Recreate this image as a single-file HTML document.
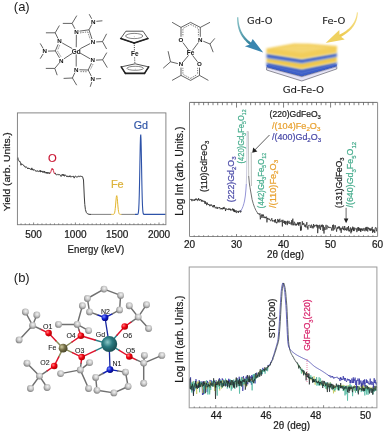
<!DOCTYPE html><html><head><meta charset="utf-8"><style>html,body{margin:0;padding:0;background:#fff;}svg{display:block;}text{font-family:'Liberation Sans', Arial, sans-serif;}</style></head><body>
<svg width="386" height="434" viewBox="0 0 386 434">
<defs>
<radialGradient id="gC" cx="0.55" cy="0.38" r="0.72"><stop offset="0" stop-color="#f2f2f2"/><stop offset="0.45" stop-color="#c6c6c6"/><stop offset="0.85" stop-color="#808080"/><stop offset="1" stop-color="#5a5a5a"/></radialGradient>
<radialGradient id="gO" cx="0.35" cy="0.35" r="0.75"><stop offset="0" stop-color="#ff8080"/><stop offset="0.45" stop-color="#f00010"/><stop offset="1" stop-color="#a00000"/></radialGradient>
<radialGradient id="gN" cx="0.35" cy="0.35" r="0.75"><stop offset="0" stop-color="#8090ff"/><stop offset="0.45" stop-color="#1020d0"/><stop offset="1" stop-color="#000070"/></radialGradient>
<radialGradient id="gFe" cx="0.35" cy="0.35" r="0.75"><stop offset="0" stop-color="#d0cca0"/><stop offset="0.45" stop-color="#767048"/><stop offset="1" stop-color="#3c3a20"/></radialGradient>
<radialGradient id="gGd" cx="0.4" cy="0.38" r="0.75"><stop offset="0" stop-color="#8cc8c8"/><stop offset="0.4" stop-color="#2a7a80"/><stop offset="1" stop-color="#123c40"/></radialGradient>
<linearGradient id="gTeal" x1="0" y1="0" x2="1" y2="1"><stop offset="0" stop-color="#8cc4c8"/><stop offset="1" stop-color="#2a7c98"/></linearGradient>
<linearGradient id="gYel" x1="1" y1="0" x2="0" y2="1"><stop offset="0" stop-color="#f6e08a"/><stop offset="1" stop-color="#ecc84a"/></linearGradient>
<filter id="blur1" x="-10%" y="-30%" width="120%" height="160%"><feGaussianBlur stdDeviation="0.9"/></filter>
<filter id="blur2" x="-10%" y="-30%" width="120%" height="160%"><feGaussianBlur stdDeviation="0.5"/></filter>
</defs>
<text x="13.8" y="11.2" font-size="13" fill="#1a1a1a" >(a)</text>
<text x="13.8" y="281.9" font-size="13" fill="#1a1a1a" >(b)</text>
<line x1="76.24" y1="47.2" x2="76.37" y2="34.8" stroke="#3c3c3c" stroke-width="0.8" />
<line x1="80.28" y1="48.68" x2="90.16" y2="43.57" stroke="#3c3c3c" stroke-width="0.8" />
<line x1="72.19" y1="48.55" x2="62.19" y2="42.96" stroke="#3c3c3c" stroke-width="0.8" />
<line x1="72.35" y1="53.32" x2="63.88" y2="58.85" stroke="#3c3c3c" stroke-width="0.8" />
<line x1="80.19" y1="53.08" x2="90.02" y2="58.71" stroke="#3c3c3c" stroke-width="0.8" />
<line x1="76.2" y1="54.4" x2="76.2" y2="66.5" stroke="#3c3c3c" stroke-width="0.8" />
<line x1="79.57" y1="31.15" x2="89" y2="29.8" stroke="#3c3c3c" stroke-width="0.8" />
<line x1="89" y1="29.8" x2="92.01" y2="39.06" stroke="#3c3c3c" stroke-width="0.8" />
<line x1="89" y1="29.8" x2="91.74" y2="24.45" stroke="#3c3c3c" stroke-width="0.8" />
<line x1="58.13" y1="44.34" x2="55.3" y2="50.9" stroke="#3c3c3c" stroke-width="0.8" />
<line x1="55.3" y1="50.9" x2="59.54" y2="57.87" stroke="#3c3c3c" stroke-width="0.8" />
<line x1="55.3" y1="50.9" x2="48" y2="51.11" stroke="#3c3c3c" stroke-width="0.8" />
<line x1="91.43" y1="63.19" x2="88.2" y2="70" stroke="#3c3c3c" stroke-width="0.8" />
<line x1="88.2" y1="70" x2="79.4" y2="69.78" stroke="#3c3c3c" stroke-width="0.8" />
<line x1="88.2" y1="70" x2="91.34" y2="76.15" stroke="#3c3c3c" stroke-width="0.8" />
<line x1="80.12" y1="32.89" x2="87.67" y2="31.81" stroke="#3c3c3c" stroke-width="0.7" stroke-dasharray="1.3 1.1"/>
<line x1="87.78" y1="31.88" x2="90.21" y2="39.33" stroke="#3c3c3c" stroke-width="0.7" stroke-dasharray="1.3 1.1"/>
<line x1="59.67" y1="45.33" x2="57.59" y2="50.14" stroke="#3c3c3c" stroke-width="0.7" stroke-dasharray="1.3 1.1"/>
<line x1="57.67" y1="51.33" x2="60.92" y2="56.67" stroke="#3c3c3c" stroke-width="0.7" stroke-dasharray="1.3 1.1"/>
<line x1="92.93" y1="64.23" x2="90.51" y2="69.33" stroke="#3c3c3c" stroke-width="0.7" stroke-dasharray="1.3 1.1"/>
<line x1="86.56" y1="71.76" x2="79.65" y2="71.59" stroke="#3c3c3c" stroke-width="0.7" stroke-dasharray="1.3 1.1"/>
<line x1="91.68" y1="18.78" x2="89.2" y2="14.2" stroke="#3c3c3c" stroke-width="0.8" />
<line x1="96.39" y1="21.32" x2="102.4" y2="20.8" stroke="#3c3c3c" stroke-width="0.8" />
<line x1="43.17" y1="48.44" x2="40.2" y2="43.4" stroke="#3c3c3c" stroke-width="0.8" />
<line x1="43.13" y1="53.93" x2="40.2" y2="58.7" stroke="#3c3c3c" stroke-width="0.8" />
<line x1="96" y1="78.85" x2="101.1" y2="78.6" stroke="#3c3c3c" stroke-width="0.8" />
<line x1="91.79" y1="82.04" x2="90.2" y2="86.8" stroke="#3c3c3c" stroke-width="0.8" />
<line x1="74.91" y1="28.77" x2="72.1" y2="23.4" stroke="#3c3c3c" stroke-width="0.8" />
<line x1="72.1" y1="23.4" x2="62.8" y2="23.4" stroke="#3c3c3c" stroke-width="0.8" />
<line x1="72.1" y1="23.4" x2="76.8" y2="15.6" stroke="#3c3c3c" stroke-width="0.8" />
<line x1="96.2" y1="41.93" x2="102.5" y2="41.6" stroke="#3c3c3c" stroke-width="0.8" />
<line x1="102.5" y1="41.6" x2="106.6" y2="33.8" stroke="#3c3c3c" stroke-width="0.8" />
<line x1="102.5" y1="41.6" x2="106.6" y2="49" stroke="#3c3c3c" stroke-width="0.8" />
<line x1="58" y1="38.52" x2="55.2" y2="32.8" stroke="#3c3c3c" stroke-width="0.8" />
<line x1="55.2" y1="32.8" x2="45.9" y2="32.8" stroke="#3c3c3c" stroke-width="0.8" />
<line x1="55.2" y1="32.8" x2="59.4" y2="25.5" stroke="#3c3c3c" stroke-width="0.8" />
<line x1="59.17" y1="63.07" x2="54.8" y2="68.4" stroke="#3c3c3c" stroke-width="0.8" />
<line x1="54.8" y1="68.4" x2="45.8" y2="68.4" stroke="#3c3c3c" stroke-width="0.8" />
<line x1="54.8" y1="68.4" x2="57.2" y2="75.2" stroke="#3c3c3c" stroke-width="0.8" />
<line x1="96" y1="60.14" x2="102.6" y2="59.8" stroke="#3c3c3c" stroke-width="0.8" />
<line x1="102.6" y1="59.8" x2="106.8" y2="52.6" stroke="#3c3c3c" stroke-width="0.8" />
<line x1="102.6" y1="59.8" x2="107.3" y2="67.6" stroke="#3c3c3c" stroke-width="0.8" />
<line x1="74.87" y1="72.61" x2="72.4" y2="78" stroke="#3c3c3c" stroke-width="0.8" />
<line x1="72.4" y1="78" x2="63.6" y2="78.4" stroke="#3c3c3c" stroke-width="0.8" />
<line x1="72.4" y1="78" x2="76.7" y2="85.2" stroke="#3c3c3c" stroke-width="0.8" />
<text x="76.4" y="33.5" font-size="6.2" fill="#1a1a1a" stroke="#1a1a1a" stroke-width="0.05" text-anchor="middle" font-weight="bold">N</text>
<text x="93" y="44" font-size="6.2" fill="#1a1a1a" stroke="#1a1a1a" stroke-width="0.05" text-anchor="middle" font-weight="bold">N</text>
<text x="93.2" y="23.5" font-size="6.2" fill="#1a1a1a" stroke="#1a1a1a" stroke-width="0.05" text-anchor="middle" font-weight="bold">N</text>
<text x="59.4" y="43.3" font-size="6.2" fill="#1a1a1a" stroke="#1a1a1a" stroke-width="0.05" text-anchor="middle" font-weight="bold">N</text>
<text x="61.2" y="62.5" font-size="6.2" fill="#1a1a1a" stroke="#1a1a1a" stroke-width="0.05" text-anchor="middle" font-weight="bold">N</text>
<text x="44.8" y="53.1" font-size="6.2" fill="#1a1a1a" stroke="#1a1a1a" stroke-width="0.05" text-anchor="middle" font-weight="bold">N</text>
<text x="92.8" y="62.2" font-size="6.2" fill="#1a1a1a" stroke="#1a1a1a" stroke-width="0.05" text-anchor="middle" font-weight="bold">N</text>
<text x="76.2" y="71.6" font-size="6.2" fill="#1a1a1a" stroke="#1a1a1a" stroke-width="0.05" text-anchor="middle" font-weight="bold">N</text>
<text x="92.8" y="80.9" font-size="6.2" fill="#1a1a1a" stroke="#1a1a1a" stroke-width="0.05" text-anchor="middle" font-weight="bold">N</text>
<text x="76.3" y="53.5" font-size="6.4" fill="#1a1a1a" stroke="#1a1a1a" stroke-width="0.05" text-anchor="middle" font-weight="bold">Gd</text>
<path d="M125.9 31.2 L143 31.2 L148 38.5 L134.2 43.1 L120.7 38.5 Z" fill="none" stroke="#2a2a2a" stroke-width="0.8" stroke-linejoin="round"/>
<path d="M120.7 38.5 L134.2 43.1" stroke="#222" stroke-width="1.6" stroke-linecap="round"/>
<path d="M134.2 43.1 L148 38.5" stroke="#222" stroke-width="1.6" stroke-linecap="round"/>
<ellipse cx="134.2" cy="36" rx="8.6" ry="2.6" fill="none" stroke="#444" stroke-width="0.65"/>
<circle cx="134.2" cy="36.8" r="0.4" fill="#555"/>
<path d="M135.2 63.8 L148.7 66.9 L144.5 73.4 L125.4 73.4 L121.2 66.9 Z" fill="none" stroke="#2a2a2a" stroke-width="0.8" stroke-linejoin="round"/>
<path d="M148.7 66.9 L144.5 73.4" stroke="#222" stroke-width="1.6" stroke-linecap="round"/>
<path d="M144.5 73.4 L125.4 73.4" stroke="#222" stroke-width="1.6" stroke-linecap="round"/>
<path d="M125.4 73.4 L121.2 66.9" stroke="#222" stroke-width="1.6" stroke-linecap="round"/>
<ellipse cx="135.2" cy="68.3" rx="8.2" ry="2" fill="none" stroke="#444" stroke-width="0.65"/>
<circle cx="135.2" cy="69.1" r="0.4" fill="#555"/>
<line x1="134.3" y1="44.8" x2="134.4" y2="50.6" stroke="#333" stroke-width="0.9" stroke-dasharray="1.1 1.1"/>
<line x1="134.6" y1="57.4" x2="134.9" y2="63.4" stroke="#333" stroke-width="0.9" stroke-dasharray="1.1 1.1"/>
<text x="134.75" y="56.2" font-size="6.4" fill="#1a1a1a" stroke="#1a1a1a" stroke-width="0.05" text-anchor="middle" font-weight="bold">Fe</text>
<line x1="182.91" y1="42.57" x2="188.69" y2="50.33" stroke="#3c3c3c" stroke-width="0.8" />
<line x1="198.38" y1="42.56" x2="192.52" y2="50.34" stroke="#3c3c3c" stroke-width="0.8" />
<line x1="183.05" y1="61.94" x2="188.55" y2="55.36" stroke="#3c3c3c" stroke-width="0.8" />
<line x1="197.54" y1="61.87" x2="192.56" y2="55.43" stroke="#3c3c3c" stroke-width="0.8" />
<line x1="181" y1="27.4" x2="181" y2="36.8" stroke="#3c3c3c" stroke-width="0.8" />
<line x1="200.3" y1="27.4" x2="200.3" y2="36.8" stroke="#3c3c3c" stroke-width="0.8" />
<line x1="181" y1="27.4" x2="190.6" y2="22.4" stroke="#3c3c3c" stroke-width="0.8" />
<line x1="190.6" y1="22.4" x2="200.3" y2="27.4" stroke="#3c3c3c" stroke-width="0.8" />
<line x1="181" y1="27.4" x2="172.1" y2="22.3" stroke="#3c3c3c" stroke-width="0.8" />
<line x1="200.3" y1="27.4" x2="210" y2="22.3" stroke="#3c3c3c" stroke-width="0.8" />
<line x1="181" y1="75.4" x2="181" y2="67.6" stroke="#3c3c3c" stroke-width="0.8" />
<line x1="199.5" y1="75.4" x2="199.5" y2="67.6" stroke="#3c3c3c" stroke-width="0.8" />
<line x1="181" y1="75.4" x2="190.6" y2="80.4" stroke="#3c3c3c" stroke-width="0.8" />
<line x1="190.6" y1="80.4" x2="199.5" y2="75.4" stroke="#3c3c3c" stroke-width="0.8" />
<line x1="181" y1="75.4" x2="172.1" y2="80.4" stroke="#3c3c3c" stroke-width="0.8" />
<line x1="199.5" y1="75.4" x2="208.4" y2="80.4" stroke="#3c3c3c" stroke-width="0.8" />
<line x1="182.9" y1="29.2" x2="182.9" y2="36.6" stroke="#3c3c3c" stroke-width="0.7" stroke-dasharray="1.3 1.1"/>
<line x1="198.4" y1="29.2" x2="198.4" y2="36.6" stroke="#3c3c3c" stroke-width="0.7" stroke-dasharray="1.3 1.1"/>
<line x1="183.43" y1="28.16" x2="190.54" y2="24.46" stroke="#3c3c3c" stroke-width="0.7" stroke-dasharray="1.3 1.1"/>
<line x1="190.66" y1="24.46" x2="197.88" y2="28.18" stroke="#3c3c3c" stroke-width="0.7" stroke-dasharray="1.3 1.1"/>
<line x1="182.9" y1="73.6" x2="182.9" y2="67.8" stroke="#3c3c3c" stroke-width="0.7" stroke-dasharray="1.3 1.1"/>
<line x1="197.6" y1="73.6" x2="197.6" y2="67.8" stroke="#3c3c3c" stroke-width="0.7" stroke-dasharray="1.3 1.1"/>
<line x1="183.43" y1="74.64" x2="190.54" y2="78.34" stroke="#3c3c3c" stroke-width="0.7" stroke-dasharray="1.3 1.1"/>
<line x1="190.59" y1="78.34" x2="197.05" y2="74.71" stroke="#3c3c3c" stroke-width="0.7" stroke-dasharray="1.3 1.1"/>
<line x1="203.26" y1="41.22" x2="210" y2="44" stroke="#3c3c3c" stroke-width="0.8" />
<line x1="210" y1="44" x2="214.8" y2="38.4" stroke="#3c3c3c" stroke-width="0.8" />
<line x1="210" y1="44" x2="213.2" y2="52.2" stroke="#3c3c3c" stroke-width="0.8" />
<line x1="177.89" y1="63.63" x2="170.5" y2="61.8" stroke="#3c3c3c" stroke-width="0.8" />
<line x1="170.5" y1="61.8" x2="168.1" y2="51.2" stroke="#3c3c3c" stroke-width="0.8" />
<line x1="170.5" y1="61.8" x2="163.2" y2="68.2" stroke="#3c3c3c" stroke-width="0.8" />
<text x="181" y="41.6" font-size="6.2" fill="#1a1a1a" stroke="#1a1a1a" stroke-width="0.05" text-anchor="middle" font-weight="bold">O</text>
<text x="200.3" y="41.6" font-size="6.2" fill="#1a1a1a" stroke="#1a1a1a" stroke-width="0.05" text-anchor="middle" font-weight="bold">N</text>
<text x="181" y="66" font-size="6.2" fill="#1a1a1a" stroke="#1a1a1a" stroke-width="0.05" text-anchor="middle" font-weight="bold">N</text>
<text x="199.5" y="66" font-size="6.2" fill="#1a1a1a" stroke="#1a1a1a" stroke-width="0.05" text-anchor="middle" font-weight="bold">O</text>
<text x="190.6" y="54.6" font-size="6.4" fill="#1a1a1a" stroke="#1a1a1a" stroke-width="0.05" text-anchor="middle" font-weight="bold">Fe</text>
<path d="M266.6 64.8 L301.8 73.6 L336.8 64.2 L336.8 66.6 L301.8 76.6 L266.6 67.4 Z" fill="#3a5cc8"/>
<path d="M266.6 67.4 L301.8 76.6 L336.8 66.6 L336.8 68.9 L301.8 81 L266.6 70 Z" fill="#e6e4f4" stroke="#4a4a55" stroke-width="0.6" stroke-linejoin="round"/>
<path d="M266.6 62.3 L301.8 69 L336.8 61.9 L336.8 65.6 L301.8 75 L266.6 66.2 Z" fill="#3f62c8" filter="url(#blur1)"/>
<path d="M266.6 57.9 L301.8 63.3 L336.8 56.7 L336.8 61.9 L301.8 69 L266.6 62.3 Z" fill="#f0c84e" filter="url(#blur1)"/>
<path d="M266.6 53.5 L301.8 59 L336.8 53 L336.8 56.7 L301.8 63.3 L266.6 57.9 Z" fill="#4466c8" filter="url(#blur1)"/>
<path d="M266.3 48.4 L293.8 43.6 L309.8 43.8 L337.1 46 L336.8 53 L301.8 59 L266.6 53.5 Z" fill="#f2cd5a" filter="url(#blur1)"/>
<path d="M272.6 48.5 L295.8 45.2 L307.8 45.3 L330.8 47.4 L301.8 53 Z" fill="#f6db80" filter="url(#blur1)" opacity="0.6"/>
<path d="M266.6 67.6 L301.8 77.5 L336.8 66.8" fill="none" stroke="#c0c0ea" stroke-width="0.5"/>
<path d="M237.05 17.21 L237.06 18.39 L237.09 19.55 L237.15 20.69 L237.23 21.8 L237.34 22.9 L237.48 23.97 L237.64 25.03 L237.83 26.06 L238.05 27.08 L238.29 28.08 L238.57 29.07 L238.88 30.04 L239.21 30.99 L239.58 31.93 L239.98 32.85 L240.42 33.76 L240.89 34.65 L241.39 35.53 L241.93 36.4 L242.5 37.26 L243.1 38.1 L243.75 38.93 L244.42 39.75 L245.14 40.56 L245.89 41.37 L246.68 42.16 L247.51 42.94 L248.37 43.71 L249.27 44.48 L250.21 45.24 L251.79 43.16 L250.87 42.48 L249.99 41.79 L249.14 41.09 L248.34 40.38 L247.57 39.67 L246.84 38.96 L246.14 38.23 L245.48 37.49 L244.85 36.74 L244.25 35.99 L243.69 35.22 L243.15 34.43 L242.65 33.64 L242.18 32.83 L241.74 32 L241.33 31.16 L240.94 30.3 L240.59 29.42 L240.26 28.52 L239.96 27.61 L239.68 26.67 L239.44 25.71 L239.21 24.73 L239.02 23.73 L238.85 22.7 L238.7 21.65 L238.58 20.57 L238.48 19.47 L238.4 18.34 L238.35 17.19 Z" fill="url(#gTeal)"/>
<path d="M263.2 52.6 L244.9 46.3 L250 44.6 L252.7 39 Z" fill="#3a86b0"/>
<path d="M356.9 12.36 L356.78 13.3 L356.63 14.22 L356.46 15.13 L356.26 16.03 L356.03 16.91 L355.77 17.78 L355.48 18.64 L355.17 19.49 L354.82 20.32 L354.43 21.14 L354.02 21.94 L353.57 22.74 L353.08 23.52 L352.56 24.29 L352 25.05 L351.41 25.79 L350.77 26.53 L350.09 27.25 L349.38 27.96 L348.62 28.67 L347.81 29.36 L346.96 30.04 L346.06 30.71 L345.12 31.38 L344.12 32.03 L343.08 32.67 L341.99 33.3 L340.84 33.93 L339.64 34.54 L338.38 35.14 L339.62 37.66 L340.91 36.97 L342.14 36.27 L343.32 35.56 L344.44 34.84 L345.52 34.1 L346.54 33.36 L347.51 32.6 L348.43 31.84 L349.3 31.06 L350.13 30.27 L350.9 29.47 L351.63 28.65 L352.31 27.83 L352.95 27 L353.55 26.15 L354.1 25.3 L354.61 24.44 L355.08 23.57 L355.5 22.69 L355.89 21.8 L356.24 20.9 L356.56 19.99 L356.84 19.07 L357.08 18.15 L357.29 17.22 L357.47 16.28 L357.62 15.33 L357.74 14.38 L357.83 13.41 L357.9 12.44 Z" fill="url(#gYel)"/>
<path d="M325.6 43 L339.3 29.9 L339.6 35.8 L344.7 39.6 Z" fill="#efd160"/>
<text x="247" y="24.3" font-size="9.1" fill="#1a1a1a" stroke="#1a1a1a" stroke-width="0.1" textLength="25.5" lengthAdjust="spacingAndGlyphs" style="font-family:DejaVu Sans,sans-serif">Gd-O</text>
<text x="322.3" y="24.3" font-size="9.1" fill="#1a1a1a" stroke="#1a1a1a" stroke-width="0.1" textLength="23" lengthAdjust="spacingAndGlyphs" style="font-family:DejaVu Sans,sans-serif">Fe-O</text>
<text x="282.7" y="93.1" font-size="9.3" fill="#1a1a1a" stroke="#1a1a1a" stroke-width="0.1" textLength="41.4" lengthAdjust="spacingAndGlyphs" style="font-family:DejaVu Sans,sans-serif">Gd-Fe-O</text>
<path d="M17.4 159.42 L17.8 157.63 L18.2 159.97 L18.6 160.11 L19 160.82 L19.4 161.53 L19.8 161.06 L20.2 162.49 L20.6 162.56 L21 165.25 L21.4 163.92 L21.8 163.95 L22.2 164.32 L22.6 164.42 L23 164.51 L23.4 165.16 L23.8 165.91 L24.2 165.77 L24.6 166.68 L25 166.29 L25.4 166.65 L25.8 167.71 L26.2 167.38 L26.6 167.01 L27 167.39 L27.4 167.98 L27.8 168.94 L28.2 167.91 L28.6 168.1 L29 168.95 L29.4 168.08 L29.8 168.56 L30.2 169.36 L30.6 169.34 L31 169.22 L31.4 169.68 L31.8 167.89 L32.2 170.14 L32.6 169.18 L33 168.92 L33.4 170.11 L33.8 170.46 L34.2 169.94 L34.6 169.7 L35 170.41 L35.4 170.47 L35.8 171.37 L36.2 171.11 L36.6 170.9 L37 171.49 L37.4 170.85 L37.8 170.54 L38.2 171.46 L38.6 171.54 L39 171.18 L39.4 170.95 L39.8 171.59 L40.2 170.17 L40.6 172 L41 171.96 L41.4 170.86 L41.8 171.87 L42.2 171.38 L42.6 172.4 L43 170.93 L43.4 171.62 L43.8 172.58 L44.2 172.89 L44.6 171.14 L45 172.13 L45.4 172.65 L45.8 172.21 L46.2 173.49 L46.6 172.04 L47 172.96 L47.4 172.26 L47.8 173.68 L48.2 172.97 L48.6 172.84 L49 172.15 L49.4 174.01 L49.8 173.39" fill="none" stroke="#3c3c3c" stroke-width="1.0"/>
<path d="M49.8 173.39 L50.2 173.07 L50.6 172.68 L51 171.33 L51.4 169.72 L51.8 168.69 L52.2 168.24 L52.6 169.68 L53 168.98 L53.4 170.63 L53.8 171.93 L54.2 173.12 L54.6 173.9 L55 173.23" fill="none" stroke="#c8102e" stroke-width="0.9"/>
<path d="M55 173.23 L55.4 173.15 L55.8 174.21 L56.2 174.96 L56.6 174.77 L57 174.54 L57.4 174.32 L57.8 174.72 L58.2 174.49 L58.6 175.13 L59 174.31 L59.4 174.88 L59.8 174.81 L60.2 175.23 L60.6 175.11 L61 176.45 L61.4 175.93 L61.8 175.98 L62.2 174.09 L62.6 175.08 L63 174.99 L63.4 175.67 L63.8 174.18 L64.2 176.13 L64.6 176.13 L65 174.88 L65.4 175.12 L65.8 175.27 L66.2 175.8 L66.6 176.18 L67 177.02 L67.4 175.84 L67.8 176.43 L68.2 176.15 L68.6 177.09 L69 176.58 L69.4 176.98 L69.8 175.68 L70.2 176.22 L70.6 175.93 L71 177.25 L71.4 176.84 L71.8 176.37 L72.2 176.34 L72.6 176.9 L73 176.29 L73.4 176.21 L73.8 177.02 L74.2 178.13 L74.6 176.66 L75 176.49 L75.4 176.15 L75.8 176.06 L76.2 177.07 L76.6 177.24 L77 176.76 L77.4 176.92 L77.8 176.78 L78.2 176.77 L78.6 175.84 L79 176.4 L79.4 176.69 L79.8 176.18 L80.2 176.33 L80.6 176.12 L81 176.36 L81.4 176.99 L81.8 176.27 L82.2 176.38 L82.6 176.88 L83.5 180 L83.9 188 L84.3 197 L84.8 204.5 L85.4 209.5 L86.3 212.4 L87.5 213.8 L89 214.3 L91 214.4" fill="none" stroke="#3c3c3c" stroke-width="1.0"/>
<path d="M91 214.4 L91.25 214.4 L91.5 214.4 L91.75 214.4 L92 214.4 L92.25 214.4 L92.5 214.4 L92.75 214.4 L93 214.4 L93.25 214.4 L93.5 214.4 L93.75 214.4 L94 214.4 L94.25 214.4 L94.5 214.4 L94.75 214.4 L95 214.4 L95.25 214.4 L95.5 214.4 L95.75 214.4 L96 214.4 L96.25 214.4 L96.5 214.4 L96.75 214.4 L97 214.4 L97.25 214.4 L97.5 214.4 L97.75 214.4 L98 214.4 L98.25 214.4 L98.5 214.4 L98.75 214.4 L99 214.4 L99.25 214.4 L99.5 214.4 L99.75 214.4 L100 214.4 L100.25 214.4 L100.5 214.4 L100.75 214.4 L101 214.4 L101.25 214.4 L101.5 214.4 L101.75 214.4 L102 214.4 L102.25 214.4 L102.5 214.4 L102.75 214.4 L103 214.4 L103.25 214.4 L103.5 214.4 L103.75 214.4 L104 214.4 L104.25 214.4 L104.5 214.4 L104.75 214.4 L105 214.4 L105.25 214.4 L105.5 214.4 L105.75 214.4 L106 214.4 L106.25 214.4 L106.5 214.4 L106.75 214.4 L107 214.4 L107.25 214.4 L107.5 214.4 L107.75 214.4 L108 214.4 L108.25 214.4 L108.5 214.4 L108.75 214.4 L109 214.4 L109.25 214.4 L109.5 214.4 L109.75 214.4 L110 214.4 L110.25 214.4 L110.5 214.4 L110.75 214.4 L111 214.4 L111.25 214.4" fill="none" stroke="#3c3c3c" stroke-width="0.85"/>
<path d="M111 214.4 L111.25 214.4 L111.5 214.4 L111.75 214.4 L112 214.4 L112.25 214.4 L112.5 214.4 L112.75 214.4 L113 214.39 L113.25 214.37 L113.5 214.34 L113.75 214.25 L114 214.07 L114.25 213.72 L114.5 213.11 L114.75 212.11 L115 210.61 L115.25 208.53 L115.5 205.93 L115.75 203 L116 200.07 L116.25 197.6 L116.5 196.01 L116.75 195.63 L117 196.51 L117.25 198.5 L117.5 201.21 L117.75 204.19 L118 207.03 L118.25 209.43 L118.5 211.28 L118.75 212.57 L119 213.4 L119.25 213.89 L119.5 214.16 L119.75 214.29 L120 214.35 L120.25 214.38 L120.5 214.39 L120.75 214.4 L121 214.4 L121.25 214.4 L121.5 214.4" fill="none" stroke="#e3b52a" stroke-width="1.0"/>
<path d="M121.5 214.4 L121.75 214.4 L122 214.4 L122.25 214.4 L122.5 214.4 L122.75 214.4 L123 214.4 L123.25 214.4 L123.5 214.4 L123.75 214.4 L124 214.4 L124.25 214.4 L124.5 214.4 L124.75 214.4 L125 214.4 L125.25 214.4 L125.5 214.4 L125.75 214.4 L126 214.4 L126.25 214.4 L126.5 214.4 L126.75 214.4 L127 214.4 L127.25 214.4 L127.5 214.4 L127.75 214.4 L128 214.4 L128.25 214.4 L128.5 214.4 L128.75 214.4 L129 214.4 L129.25 214.4 L129.5 214.4 L129.75 214.4 L130 214.4 L130.25 214.4 L130.5 214.4 L130.75 214.4 L131 214.4 L131.25 214.4 L131.5 214.4 L131.75 214.4 L132 214.4 L132.25 214.4 L132.5 214.4 L132.75 214.4 L133 214.4 L133.25 214.4 L133.5 214.4 L133.75 214.4 L134 214.4 L134.25 214.4 L134.5 214.4 L134.75 214.4 L135 214.4" fill="none" stroke="#3c3c3c" stroke-width="0.85"/>
<path d="M135 214.4 L135.25 214.4 L135.5 214.4 L135.75 214.4 L136 214.4 L136.25 214.4 L136.5 214.4 L136.75 214.4 L137 214.39 L137.25 214.38 L137.5 214.33 L137.75 214.21 L138 213.89 L138.25 213.15 L138.5 211.6 L138.75 208.65 L139 203.59 L139.25 195.75 L139.5 184.9 L139.75 171.61 L140 157.48 L140.25 144.95 L140.5 136.68 L140.75 134.64 L141 139.32 L141.25 149.59 L141.5 163.09 L141.75 177.14 L142 189.59 L142.25 199.25 L142.5 205.91 L142.75 210.04 L143 212.35 L143.25 213.51 L143.5 214.05 L143.75 214.27 L144 214.36 L144.25 214.39 L144.5 214.4 L144.75 214.4 L145 214.4 L145.25 214.4 L145.5 214.4 L145.75 214.4 L146 214.4 L146.25 214.4 L146.5 214.4 L146.75 214.4 L147 214.4 L147.25 214.4 L147.5 214.4 L147.75 214.4 L148 214.4 L148.25 214.4 L148.5 214.4 L148.75 214.4 L149 214.4 L149.25 214.4 L149.5 214.4 L149.75 214.4 L150 214.4 L150.25 214.4 L150.5 214.4 L150.75 214.4 L151 214.4 L151.25 214.4 L151.5 214.4 L151.75 214.4 L152 214.4 L152.25 214.4 L152.5 214.4 L152.75 214.4 L153 214.4 L153.25 214.4 L153.5 214.4 L153.75 214.4 L154 214.4 L154.25 214.4 L154.5 214.4 L154.75 214.4 L155 214.4 L155.25 214.4 L155.5 214.4 L155.75 214.4 L156 214.4 L156.25 214.4 L156.5 214.4 L156.75 214.4 L157 214.4 L157.25 214.4 L157.5 214.4 L157.75 214.4 L158 214.4 L158.25 214.4 L158.5 214.4 L158.75 214.4 L159 214.4 L159.25 214.4 L159.5 214.4 L159.75 214.4 L160 214.4 L160.25 214.4 L160.5 214.4 L160.75 214.4 L161 214.4 L161.25 214.4 L161.5 214.4 L161.75 214.4 L162 214.4 L162.25 214.4 L162.5 214.4 L162.75 214.4 L163 214.4 L163.25 214.4 L163.5 214.4 L163.75 214.4 L164 214.4 L164.25 214.4 L164.5 214.4 L164.75 214.4 L165 214.4 L165.25 214.4 L165.5 214.4" fill="none" stroke="#2d52a8" stroke-width="1.1"/>
<rect x="17.4" y="112.9" width="148.5" height="111.8" fill="none" stroke="#7a7a7a" stroke-width="0.9"/>
<path d="M21.06 224.7 V223.4 M25.24 224.7 V223.4 M29.42 224.7 V223.4 M33.6 224.7 V222.5 M37.78 224.7 V223.4 M41.96 224.7 V223.4 M46.14 224.7 V223.4 M50.32 224.7 V223.4 M54.5 224.7 V223.4 M58.68 224.7 V223.4 M62.86 224.7 V223.4 M67.04 224.7 V223.4 M71.22 224.7 V223.4 M75.4 224.7 V222.5 M79.58 224.7 V223.4 M83.76 224.7 V223.4 M87.94 224.7 V223.4 M92.12 224.7 V223.4 M96.3 224.7 V223.4 M100.48 224.7 V223.4 M104.66 224.7 V223.4 M108.84 224.7 V223.4 M113.02 224.7 V223.4 M117.2 224.7 V222.5 M121.38 224.7 V223.4 M125.56 224.7 V223.4 M129.74 224.7 V223.4 M133.92 224.7 V223.4 M138.1 224.7 V223.4 M142.28 224.7 V223.4 M146.46 224.7 V223.4 M150.64 224.7 V223.4 M154.82 224.7 V223.4 M159 224.7 V222.5 M163.18 224.7 V223.4" stroke="#555" stroke-width="0.7"/>
<text x="33.6" y="238.3" font-size="10" fill="#1a1a1a" stroke="#1a1a1a" stroke-width="0.22" text-anchor="middle" >500</text>
<text x="75.4" y="238.3" font-size="10" fill="#1a1a1a" stroke="#1a1a1a" stroke-width="0.22" text-anchor="middle" >1000</text>
<text x="117.2" y="238.3" font-size="10" fill="#1a1a1a" stroke="#1a1a1a" stroke-width="0.22" text-anchor="middle" >1500</text>
<text x="159" y="238.3" font-size="10" fill="#1a1a1a" stroke="#1a1a1a" stroke-width="0.22" text-anchor="middle" >2000</text>
<text x="67.6" y="253" font-size="10.6" fill="#1a1a1a" stroke="#1a1a1a" stroke-width="0.22" textLength="56.6" lengthAdjust="spacingAndGlyphs" >Energy (keV)</text>
<text transform="translate(9.6 211.2) rotate(-90)" font-size="9.9" fill="#1a1a1a" stroke="#1a1a1a" stroke-width="0.22" textLength="79" lengthAdjust="spacingAndGlyphs" >Yield (arb. Units.)</text>
<text x="52.4" y="162.1" font-size="11.2" fill="#c8102e" stroke="#c8102e" stroke-width="0.12" text-anchor="middle" >O</text>
<text x="110.9" y="187.9" font-size="11" fill="#dcb23c" stroke="#dcb23c" stroke-width="0.22" textLength="12.8" lengthAdjust="spacingAndGlyphs" >Fe</text>
<text x="133.7" y="129.2" font-size="11.2" fill="#3358a8" stroke="#3358a8" stroke-width="0.22" textLength="14.3" lengthAdjust="spacingAndGlyphs" >Gd</text>
<path d="M189.5 199.6 L189.85 199.93 L190.2 199.47 L190.55 198.97 L190.9 199.41 L191.25 198.98 L191.6 199.98 L191.95 201.18 L192.3 199.58 L192.65 199.51 L193 200.55 L193.35 200.47 L193.7 200.29 L194.05 199.39 L194.4 200.23 L194.75 200.91 L195.1 199.1 L195.45 199.92 L195.8 198.63 L196.15 199.2 L196.5 198.72 L196.85 200.17 L197.2 199.25 L197.55 200.65 L197.9 200.55 L198.25 200.25 L198.6 198.17 L198.95 199.95 L199.3 200.41 L199.65 200.56 L200 199.1 L200.35 200.06 L200.7 199.63 L201.05 199.8 L201.4 201.51 L201.75 199.85 L202.1 200.58 L202.45 201.51 L202.8 200.36 L203.15 201.01 L203.5 201.47 L203.85 201.71 L204.2 200.84 L204.55 202.27 L204.9 203.66 L205.25 201.25 L205.6 203.61 L205.95 203.13 L206.3 202.64 L206.65 205.2 L207 204.27 L207.35 202.68 L207.7 204 L208.05 204.62 L208.4 204.1 L208.75 205.05 L209.1 204.54 L209.45 205.36 L209.8 206.21 L210.15 204.46 L210.5 205.4 L210.85 204.95 L211.2 205.63 L211.55 204.6 L211.9 205.29 L212.25 205.79 L212.6 206.92 L212.95 207.28 L213.3 205.2 L213.65 205.81 L214 207.24 L214.35 205 L214.7 206.5 L215.05 206.95 L215.4 208.28 L215.75 207.88 L216.1 207.07 L216.45 207.13 L216.8 207.33 L217.15 209.01 L217.5 207.33 L217.85 207.52 L218.2 208.18 L218.55 207.82 L218.9 207.82 L219.25 207.06 L219.6 208.11 L219.95 207.78 L220.3 209.29 L220.65 208.88 L221 208.33 L221.35 209 L221.7 208.15 L222.05 209.45 L222.4 208.55 L222.75 209.14 L223.1 207.5 L223.45 209.03 L223.8 207.25 L224.15 206.99 L224.5 208.6 L224.85 208.11 L225.2 209.12 L225.55 211.04 L225.9 208.31 L226.25 208.54 L226.6 209.33 L226.95 209.63 L227.3 209.07 L227.65 209.09 L228 209.95 L228.35 209.83 L228.7 208.48 L229.05 209.39 L229.4 209.54 L229.75 208.62 L230.1 209.86 L230.45 208.92 L230.8 210.63 L231.15 210.01 L231.5 210.01 L231.85 209.52 L232.2 210.08 L232.55 208.54 L232.9 209.47 L233.25 210.98 L233.6 208.9 L233.95 211.74 L234.3 209.56 L234.65 211.95 L235 210.62 L235.35 212.19 L235.7 211.68 L236.05 210.22 L236.4 212.76 L236.75 212.96 L237.1 211.64 L237.45 211.48 L237.8 211.6 L238.15 210.89 L238.5 212.77 L238.85 211.3 L239.2 211.75 L239.55 211.08 L239.9 211.16 L240.25 210.4 L240.6 212.43 L240.95 210.86 L241.3 211.55" fill="none" stroke="#222" stroke-width="0.75"/>
<path d="M240 211.6 L241 210.6 L242 208.8 L243 206.4 L243.8 203.8 L244.5 201 L245.3 196 L245.9 190 L246.3 184" fill="none" stroke="#7070c8" stroke-width="0.75"/>
<path d="M246.3 184 L246.6 175 L246.8 160 L247 145 L247.2 131.6" fill="none" stroke="#b8b8d0" stroke-width="0.75"/>
<path d="M247.2 131.6 L247.7 131.0 L248.3 131.8 L248.5 150 L248.7 176" fill="none" stroke="#b4b4b4" stroke-width="0.8"/>
<path d="M251.2 152.0 L251.3 170 L251.4 186" fill="none" stroke="#a8a8a8" stroke-width="0.8"/>
<path d="M248.7 176 L249.3 183 L250.0 187.5 L250.6 191 L251.3 195 L252.1 199.5 L253.2 203.5 L254.6 207.5 L256.0 210.5 L257.7 213.2" fill="none" stroke="#4a4a4a" stroke-width="0.8"/>
<path d="M257.5 213.7 L257.85 213 L258.2 213.68 L258.55 213.59 L258.9 214.52 L259.25 214.24 L259.6 214.53 L259.95 213.35 L260.3 219.31 L260.65 217.61 L261 214.82 L261.35 214.51 L261.7 216.91 L262.05 218.01 L262.4 214.51 L262.75 216.27 L263.1 215.9 L263.45 214.62 L263.8 217.98 L264.15 217.17 L264.5 217.46 L264.85 216.56 L265.2 218.27 L265.55 217.15 L265.9 217.81 L266.25 216.73 L266.6 216.73 L266.95 222.39 L267.3 217.92 L267.65 219.08 L268 218.79 L268.35 218.4 L268.7 218.43 L269.05 220 L269.4 218.92 L269.75 219.22 L270.1 219.54 L270.45 221.11 L270.8 220.56 L271.15 220.27 L271.5 219.14 L271.85 218.18 L272.2 221.25 L272.55 221.35 L272.9 220.01 L273.25 220.96 L273.6 221.34 L273.95 221.47 L274.3 221.66 L274.65 219.96 L275 222.55 L275.35 219.09 L275.7 221.85 L276.05 222.55 L276.4 221.99 L276.75 223.34 L277.1 222.9 L277.45 220.26 L277.8 218.95 L278.15 222.22 L278.5 219.93 L278.85 221.27 L279.2 222.42 L279.55 219.3 L279.9 218.76 L280.25 221.85 L280.6 221.63 L280.95 221.32 L281.3 221.74 L281.65 220.64 L282 219.85 L282.35 226.48 L282.7 220.65 L283.05 219.84 L283.4 222.64 L283.75 221.96 L284.1 222.61 L284.45 220.87 L284.8 223.87 L285.15 220.95 L285.5 224.52 L285.85 222.57 L286.2 221.37 L286.55 222.87 L286.9 222.9 L287.25 225.1 L287.6 220.77 L287.95 223.74 L288.3 222.53 L288.65 222.68 L289 220.89 L289.35 222.2 L289.7 223.96 L290.05 222.77 L290.4 223.03 L290.75 222.59 L291.1 224.57 L291.45 223.04 L291.8 220.09 L292.15 225.3 L292.5 220.45 L292.85 218.65 L293.2 222.54 L293.55 225.27 L293.9 223.46 L294.25 221.72 L294.6 222.09 L294.95 225.23 L295.3 223.82 L295.65 223.7 L296 225.65 L296.35 223.78 L296.7 225.02 L297.05 224.68 L297.4 224.2 L297.75 222.23 L298.1 224.77 L298.45 222.9 L298.8 225.79 L299.15 222.05 L299.5 223.91 L299.85 224.17 L300.2 222.11 L300.55 230.63 L300.9 226.65 L301.25 230.43 L301.6 225.64 L301.95 225.05 L302.3 221.27 L302.65 224.94 L303 224.48 L303.35 224.76 L303.7 222.94 L304.05 224.28 L304.4 224.47 L304.75 226.7 L305.1 225.37 L305.45 224.87 L305.8 227.37 L306.15 224.07 L306.5 224.38 L306.85 222.14 L307.2 227.6 L307.55 226.67 L307.9 229.51 L308.25 226.28 L308.6 225.42 L308.95 225.63 L309.3 224.92 L309.65 225.04 L310 225.49 L310.35 227.86 L310.7 226.36 L311.05 225.42 L311.4 224.62 L311.75 227.71 L312.1 228.19 L312.45 226.47 L312.8 225.8 L313.15 228.35 L313.5 223.99 L313.85 225.69 L314.2 227.23 L314.55 225.24 L314.9 225.54 L315.25 225.58 L315.6 226.15 L315.95 224.84 L316.3 225.66 L316.65 224.7 L317 227.52 L317.35 224.91 L317.7 233.16 L318.05 228.65 L318.4 225.74 L318.75 225.31 L319.1 228.6 L319.45 226.34 L319.8 224.79 L320.15 227.15 L320.5 229.82 L320.85 226.07 L321.2 226.2 L321.55 224.88 L321.9 227.1 L322.25 224.63 L322.6 224.89 L322.95 230.89 L323.3 225.28 L323.65 228.5 L324 233.53 L324.35 227.25 L324.7 227.76 L325.05 230.03 L325.4 226.63 L325.75 226.03 L326.1 224.84 L326.45 227.11 L326.8 229.45 L327.15 228.65 L327.5 225.64 L327.85 225.82 L328.2 226.41 L328.55 227.72 L328.9 226.96 L329.25 227.67 L329.6 227.83 L329.95 226.92 L330.3 227.37 L330.65 227.8 L331 227.37 L331.35 228.34 L331.7 230.57 L332.05 228.56 L332.4 227.73 L332.75 224.98 L333.1 230.71 L333.45 224.64 L333.8 225.54 L334.15 229.55 L334.5 228.99 L334.85 227.66 L335.2 225.2 L335.55 227.38 L335.9 228.13 L336.25 229.06 L336.6 231.69 L336.95 228.46 L337.3 226.9 L337.65 228.9 L338 228.12 L338.35 227.96 L338.7 226.44 L339.05 228.5 L339.4 226.5 L339.75 230.16 L340.1 230.11 L340.45 230.18 L340.8 227.71 L341.15 232.85 L341.5 228.32 L341.85 227.94 L342.2 228.06 L342.55 228.79 L342.9 226.35 L343.25 229.96 L343.6 228.42 L343.95 229.1 L344.3 230.39 L344.65 226.04 L345 227.59 L345.35 229.15 L345.7 230.03 L346.05 228.33 L346.4 230.61 L346.75 229.32 L347.1 227.07 L347.45 227.55 L347.8 230.35 L348.15 230.23 L348.5 226.07 L348.85 231.29 L349.2 230.11 L349.55 231.32 L349.9 228.58 L350.25 228.74 L350.6 227.43 L350.95 233.31 L351.3 228.99 L351.65 231.82 L352 228.27 L352.35 229.58 L352.7 226.66 L353.05 228.74 L353.4 230.94 L353.75 227.38 L354.1 231.11 L354.45 229.95 L354.8 227.75 L355.15 228.64 L355.5 228.72 L355.85 229.39 L356.2 228.62 L356.55 228.71 L356.9 232.14 L357.25 227.87 L357.6 227.47 L357.95 230.53 L358.3 230.96 L358.65 227.11 L359 230.5 L359.35 228.54 L359.7 228.03 L360.05 230.97 L360.4 228.78 L360.75 232.02 L361.1 228.38 L361.45 230.26 L361.8 229.28 L362.15 228.45 L362.5 230.6 L362.85 229.42 L363.2 230.64 L363.55 229.61 L363.9 227.95 L364.25 229.54 L364.6 229.79 L364.95 231.25 L365.3 228.27 L365.65 229.66 L366 226.98 L366.35 230.78 L366.7 228.01 L367.05 226.86 L367.4 229.66 L367.75 231.53 L368.1 227.33 L368.45 229.1 L368.8 228.59 L369.15 227.98 L369.5 230.4 L369.85 228.51 L370.2 228.65 L370.55 230.74 L370.9 228.61 L371.25 230.51 L371.6 228.27 L371.95 227.89 L372.3 226.9 L372.65 232.82 L373 229.33 L373.35 231.71 L373.7 229.8 L374.05 230.11 L374.4 229.94 L374.75 232.92 L375.1 228.35 L375.45 227.38 L375.8 228.26 L376.15 227.75 L376.5 231.08 L376.85 231.2 L377.2 228.36 L377.55 227.67" fill="none" stroke="#222" stroke-width="0.7"/>
<path d="M189.5 102.4 H377.6" stroke="#606060" stroke-width="0.9"/>
<path d="M189.5 102.4 V236.5 H377.6 V102.4" fill="none" stroke="#8a8a8a" stroke-width="1.0"/>
<path d="M194.2 102.4 V105.2 M194.2 236.5 V235.3 M198.91 102.4 V105.2 M198.91 236.5 V235.3 M203.61 102.4 V105.2 M203.61 236.5 V235.3 M208.31 102.4 V105.2 M208.31 236.5 V235.3 M213.01 102.4 V105.2 M213.01 236.5 V235.3 M217.72 102.4 V105.2 M217.72 236.5 V235.3 M222.42 102.4 V105.2 M222.42 236.5 V235.3 M227.12 102.4 V105.2 M227.12 236.5 V235.3 M231.82 102.4 V105.2 M231.82 236.5 V235.3 M236.53 102.4 V107.6 M236.53 236.5 V234.1 M241.23 102.4 V105.2 M241.23 236.5 V235.3 M245.93 102.4 V105.2 M245.93 236.5 V235.3 M250.63 102.4 V105.2 M250.63 236.5 V235.3 M255.34 102.4 V105.2 M255.34 236.5 V235.3 M260.04 102.4 V105.2 M260.04 236.5 V235.3 M264.74 102.4 V105.2 M264.74 236.5 V235.3 M269.44 102.4 V105.2 M269.44 236.5 V235.3 M274.14 102.4 V105.2 M274.14 236.5 V235.3 M278.85 102.4 V105.2 M278.85 236.5 V235.3 M283.55 102.4 V107.6 M283.55 236.5 V234.1 M288.25 102.4 V105.2 M288.25 236.5 V235.3 M292.96 102.4 V105.2 M292.96 236.5 V235.3 M297.66 102.4 V105.2 M297.66 236.5 V235.3 M302.36 102.4 V105.2 M302.36 236.5 V235.3 M307.06 102.4 V105.2 M307.06 236.5 V235.3 M311.76 102.4 V105.2 M311.76 236.5 V235.3 M316.47 102.4 V105.2 M316.47 236.5 V235.3 M321.17 102.4 V105.2 M321.17 236.5 V235.3 M325.87 102.4 V105.2 M325.87 236.5 V235.3 M330.58 102.4 V107.6 M330.58 236.5 V234.1 M335.28 102.4 V105.2 M335.28 236.5 V235.3 M339.98 102.4 V105.2 M339.98 236.5 V235.3 M344.68 102.4 V105.2 M344.68 236.5 V235.3 M349.38 102.4 V105.2 M349.38 236.5 V235.3 M354.09 102.4 V105.2 M354.09 236.5 V235.3 M358.79 102.4 V105.2 M358.79 236.5 V235.3 M363.49 102.4 V105.2 M363.49 236.5 V235.3 M368.2 102.4 V105.2 M368.2 236.5 V235.3 M372.9 102.4 V105.2 M372.9 236.5 V235.3" stroke="#555" stroke-width="0.75"/>
<text x="189.5" y="247.6" font-size="10" fill="#1a1a1a" stroke="#1a1a1a" stroke-width="0.22" text-anchor="middle" >20</text>
<text x="236.53" y="247.6" font-size="10" fill="#1a1a1a" stroke="#1a1a1a" stroke-width="0.22" text-anchor="middle" >30</text>
<text x="283.55" y="247.6" font-size="10" fill="#1a1a1a" stroke="#1a1a1a" stroke-width="0.22" text-anchor="middle" >40</text>
<text x="330.58" y="247.6" font-size="10" fill="#1a1a1a" stroke="#1a1a1a" stroke-width="0.22" text-anchor="middle" >50</text>
<text x="377.6" y="247.6" font-size="10" fill="#1a1a1a" stroke="#1a1a1a" stroke-width="0.22" text-anchor="middle" >60</text>
<text x="267" y="258.4" font-size="10.6" fill="#1a1a1a" stroke="#1a1a1a" stroke-width="0.22" textLength="37" lengthAdjust="spacingAndGlyphs" >2θ (deg)</text>
<text transform="translate(182.7 215.8) rotate(-90)" font-size="10" fill="#1a1a1a" stroke="#1a1a1a" stroke-width="0.22" textLength="89.2" lengthAdjust="spacingAndGlyphs" >Log Int (arb. Units.)</text>
<path d="M269.5 135.0 L254.5 150.3" stroke="#333" stroke-width="0.8"/>
<path d="M252.2 152.8 L253.2 147.4 L257.4 151.4 Z" fill="#222"/>
<path d="M346.1 207.8 V219" stroke="#444" stroke-width="0.8"/>
<path d="M346.1 223.3 L343.8 218.4 L348.4 218.4 Z" fill="#222"/>
<text x="269.6" y="117.2" font-size="8.6" fill="#222" stroke="#222" stroke-width="0.22" textLength="51.2" lengthAdjust="spacingAndGlyphs" >(220)GdFeO<tspan font-size="5.85" dy="2.24">3</tspan></text>
<text x="272" y="128.5" font-size="8.6" fill="#e8a232" stroke="#e8a232" stroke-width="0.22" textLength="48.4" lengthAdjust="spacingAndGlyphs" >/(104)Fe<tspan font-size="5.85" dy="2.24">2</tspan><tspan dy="-2.24">O</tspan><tspan font-size="5.85" dy="2.24">3</tspan></text>
<text x="272.1" y="139.7" font-size="8.6" fill="#4b4ba8" stroke="#4b4ba8" stroke-width="0.22" textLength="49" lengthAdjust="spacingAndGlyphs" >/(400)Gd<tspan font-size="5.85" dy="2.24">2</tspan><tspan dy="-2.24">O</tspan><tspan font-size="5.85" dy="2.24">3</tspan></text>
<text transform="translate(206.9 192.1) rotate(-90)" font-size="8.6" fill="#222" stroke="#222" stroke-width="0.22" textLength="51.3" lengthAdjust="spacingAndGlyphs" >(110)GdFeO<tspan font-size="5.85" dy="2.24">3</tspan></text>
<text transform="translate(233.5 202.3) rotate(-90)" font-size="8.6" fill="#4b4ba8" stroke="#4b4ba8" stroke-width="0.22" textLength="45.8" lengthAdjust="spacingAndGlyphs" >(222)Gd<tspan font-size="5.85" dy="2.24">2</tspan><tspan dy="-2.24">O</tspan><tspan font-size="5.85" dy="2.24">3</tspan></text>
<text transform="translate(244 163.6) rotate(-90)" font-size="8.6" fill="#48ad8e" stroke="#48ad8e" stroke-width="0.22" textLength="54.2" lengthAdjust="spacingAndGlyphs" >(420)Gd<tspan font-size="5.85" dy="2.24">3</tspan><tspan dy="-2.24">Fe</tspan><tspan font-size="5.85" dy="2.24">5</tspan><tspan dy="-2.24">O</tspan><tspan font-size="5.85" dy="2.24">12</tspan></text>
<text transform="translate(263.9 208.2) rotate(-90)" font-size="8.6" fill="#48ad8e" stroke="#48ad8e" stroke-width="0.22" textLength="55.3" lengthAdjust="spacingAndGlyphs" >(442)Gd<tspan font-size="5.85" dy="2.24">3</tspan><tspan dy="-2.24">Fe</tspan><tspan font-size="5.85" dy="2.24">5</tspan><tspan dy="-2.24">O</tspan><tspan font-size="5.85" dy="2.24">12</tspan></text>
<text transform="translate(275.8 208) rotate(-90)" font-size="8.6" fill="#e8a232" stroke="#e8a232" stroke-width="0.22" textLength="48.3" lengthAdjust="spacingAndGlyphs" >/(110)Fe<tspan font-size="5.85" dy="2.24">2</tspan><tspan dy="-2.24">O</tspan><tspan font-size="5.85" dy="2.24">3</tspan></text>
<text transform="translate(342.2 208) rotate(-90)" font-size="8.6" fill="#222" stroke="#222" stroke-width="0.22" textLength="50.5" lengthAdjust="spacingAndGlyphs" >(131)GdFeO<tspan font-size="5.85" dy="2.24">3</tspan></text>
<text transform="translate(353.3 207.5) rotate(-90)" font-size="8.6" fill="#48ad8e" stroke="#48ad8e" stroke-width="0.22" textLength="65.7" lengthAdjust="spacingAndGlyphs" >/(640)Gd<tspan font-size="5.85" dy="2.24">3</tspan><tspan dy="-2.24">Fe</tspan><tspan font-size="5.85" dy="2.24">5</tspan><tspan dy="-2.24">O</tspan><tspan font-size="5.85" dy="2.24">12</tspan></text>
<line x1="32.6" y1="325.4" x2="25.4" y2="312" stroke="#707070" stroke-width="1.45" stroke-linecap="round"/>
<line x1="32.6" y1="325.4" x2="36.8" y2="315" stroke="#707070" stroke-width="1.45" stroke-linecap="round"/>
<line x1="32.6" y1="325.4" x2="19.1" y2="339.9" stroke="#707070" stroke-width="1.45" stroke-linecap="round"/>
<line x1="77.2" y1="324.4" x2="58.5" y2="324.4" stroke="#707070" stroke-width="1.45" stroke-linecap="round"/>
<line x1="77.2" y1="324.4" x2="82.4" y2="305.7" stroke="#707070" stroke-width="1.45" stroke-linecap="round"/>
<line x1="77.2" y1="324.4" x2="88.6" y2="330.6" stroke="#707070" stroke-width="1.45" stroke-linecap="round"/>
<line x1="138.2" y1="317.1" x2="129.3" y2="305.7" stroke="#707070" stroke-width="1.45" stroke-linecap="round"/>
<line x1="138.2" y1="317.1" x2="146.5" y2="304.7" stroke="#707070" stroke-width="1.45" stroke-linecap="round"/>
<line x1="138.2" y1="317.1" x2="148.6" y2="328.5" stroke="#707070" stroke-width="1.45" stroke-linecap="round"/>
<line x1="39.5" y1="376.1" x2="27" y2="363.2" stroke="#707070" stroke-width="1.45" stroke-linecap="round"/>
<line x1="39.5" y1="376.1" x2="30.5" y2="388.5" stroke="#707070" stroke-width="1.45" stroke-linecap="round"/>
<line x1="39.5" y1="376.1" x2="47.1" y2="387.5" stroke="#707070" stroke-width="1.45" stroke-linecap="round"/>
<line x1="80.3" y1="369.9" x2="60.6" y2="373.6" stroke="#707070" stroke-width="1.45" stroke-linecap="round"/>
<line x1="80.3" y1="369.9" x2="88.6" y2="388.5" stroke="#707070" stroke-width="1.45" stroke-linecap="round"/>
<line x1="80.3" y1="369.9" x2="89.6" y2="362.6" stroke="#707070" stroke-width="1.45" stroke-linecap="round"/>
<line x1="143.7" y1="363.1" x2="144.4" y2="355.4" stroke="#707070" stroke-width="1.45" stroke-linecap="round"/>
<line x1="143.7" y1="363.1" x2="161.8" y2="355.4" stroke="#707070" stroke-width="1.45" stroke-linecap="round"/>
<line x1="143.7" y1="363.1" x2="143.7" y2="383.3" stroke="#707070" stroke-width="1.45" stroke-linecap="round"/>
<line x1="119.6" y1="309.9" x2="120.6" y2="295.4" stroke="#707070" stroke-width="1.45" stroke-linecap="round"/>
<line x1="120.6" y1="295.4" x2="104" y2="289.1" stroke="#707070" stroke-width="1.45" stroke-linecap="round"/>
<line x1="104" y1="289.1" x2="87.4" y2="298.5" stroke="#707070" stroke-width="1.45" stroke-linecap="round"/>
<line x1="87.4" y1="298.5" x2="89.5" y2="311.9" stroke="#707070" stroke-width="1.45" stroke-linecap="round"/>
<line x1="125.5" y1="372.2" x2="128.1" y2="386.5" stroke="#707070" stroke-width="1.45" stroke-linecap="round"/>
<line x1="128.1" y1="386.5" x2="113.9" y2="392.9" stroke="#707070" stroke-width="1.45" stroke-linecap="round"/>
<line x1="113.9" y1="392.9" x2="97" y2="390.3" stroke="#707070" stroke-width="1.45" stroke-linecap="round"/>
<line x1="97" y1="390.3" x2="95.7" y2="377.4" stroke="#707070" stroke-width="1.45" stroke-linecap="round"/>
<line x1="48.6" y1="333.1" x2="40.6" y2="329.25" stroke="#e0102a" stroke-width="1.45" stroke-linecap="round"/>
<line x1="40.6" y1="329.25" x2="32.6" y2="325.4" stroke="#707070" stroke-width="1.45" stroke-linecap="round"/>
<line x1="80.9" y1="335.8" x2="79.05" y2="330.1" stroke="#e0102a" stroke-width="1.45" stroke-linecap="round"/>
<line x1="79.05" y1="330.1" x2="77.2" y2="324.4" stroke="#707070" stroke-width="1.45" stroke-linecap="round"/>
<line x1="124.7" y1="326.5" x2="131.45" y2="321.8" stroke="#e0102a" stroke-width="1.45" stroke-linecap="round"/>
<line x1="131.45" y1="321.8" x2="138.2" y2="317.1" stroke="#707070" stroke-width="1.45" stroke-linecap="round"/>
<line x1="54.2" y1="366" x2="46.85" y2="371.05" stroke="#e0102a" stroke-width="1.45" stroke-linecap="round"/>
<line x1="46.85" y1="371.05" x2="39.5" y2="376.1" stroke="#707070" stroke-width="1.45" stroke-linecap="round"/>
<line x1="81.7" y1="357.1" x2="81" y2="363.5" stroke="#e0102a" stroke-width="1.45" stroke-linecap="round"/>
<line x1="81" y1="363.5" x2="80.3" y2="369.9" stroke="#707070" stroke-width="1.45" stroke-linecap="round"/>
<line x1="129.3" y1="356.5" x2="136.5" y2="359.8" stroke="#e0102a" stroke-width="1.45" stroke-linecap="round"/>
<line x1="136.5" y1="359.8" x2="143.7" y2="363.1" stroke="#707070" stroke-width="1.45" stroke-linecap="round"/>
<line x1="105" y1="317.7" x2="112.3" y2="313.8" stroke="#1020b0" stroke-width="1.45" stroke-linecap="round"/>
<line x1="112.3" y1="313.8" x2="119.6" y2="309.9" stroke="#707070" stroke-width="1.45" stroke-linecap="round"/>
<line x1="105" y1="317.7" x2="97.25" y2="314.8" stroke="#1020b0" stroke-width="1.45" stroke-linecap="round"/>
<line x1="97.25" y1="314.8" x2="89.5" y2="311.9" stroke="#707070" stroke-width="1.45" stroke-linecap="round"/>
<line x1="110" y1="369.6" x2="117.75" y2="370.9" stroke="#1020b0" stroke-width="1.45" stroke-linecap="round"/>
<line x1="117.75" y1="370.9" x2="125.5" y2="372.2" stroke="#707070" stroke-width="1.45" stroke-linecap="round"/>
<line x1="110" y1="369.6" x2="102.85" y2="373.5" stroke="#1020b0" stroke-width="1.45" stroke-linecap="round"/>
<line x1="102.85" y1="373.5" x2="95.7" y2="377.4" stroke="#707070" stroke-width="1.45" stroke-linecap="round"/>
<line x1="63.1" y1="348.2" x2="55.85" y2="340.65" stroke="#8a8a5a" stroke-width="1.45" stroke-linecap="round"/>
<line x1="55.85" y1="340.65" x2="48.6" y2="333.1" stroke="#e0102a" stroke-width="1.45" stroke-linecap="round"/>
<line x1="63.1" y1="348.2" x2="58.65" y2="357.1" stroke="#8a8a5a" stroke-width="1.45" stroke-linecap="round"/>
<line x1="58.65" y1="357.1" x2="54.2" y2="366" stroke="#e0102a" stroke-width="1.45" stroke-linecap="round"/>
<line x1="63.1" y1="348.2" x2="72.4" y2="352.65" stroke="#8a8a5a" stroke-width="1.45" stroke-linecap="round"/>
<line x1="72.4" y1="352.65" x2="81.7" y2="357.1" stroke="#e0102a" stroke-width="1.45" stroke-linecap="round"/>
<line x1="63.1" y1="348.2" x2="72" y2="342" stroke="#8a8a5a" stroke-width="1.45" stroke-linecap="round"/>
<line x1="72" y1="342" x2="80.9" y2="335.8" stroke="#e0102a" stroke-width="1.45" stroke-linecap="round"/>
<line x1="109.2" y1="344.1" x2="95.45" y2="350.6" stroke="#2a8088" stroke-width="1.45" stroke-linecap="round"/>
<line x1="95.45" y1="350.6" x2="81.7" y2="357.1" stroke="#e0102a" stroke-width="1.45" stroke-linecap="round"/>
<line x1="109.2" y1="344.1" x2="95.05" y2="339.95" stroke="#2a8088" stroke-width="1.45" stroke-linecap="round"/>
<line x1="95.05" y1="339.95" x2="80.9" y2="335.8" stroke="#e0102a" stroke-width="1.45" stroke-linecap="round"/>
<line x1="109.2" y1="344.1" x2="119.25" y2="350.3" stroke="#2a8088" stroke-width="1.45" stroke-linecap="round"/>
<line x1="119.25" y1="350.3" x2="129.3" y2="356.5" stroke="#e0102a" stroke-width="1.45" stroke-linecap="round"/>
<line x1="109.2" y1="344.1" x2="116.95" y2="335.3" stroke="#2a8088" stroke-width="1.45" stroke-linecap="round"/>
<line x1="116.95" y1="335.3" x2="124.7" y2="326.5" stroke="#e0102a" stroke-width="1.45" stroke-linecap="round"/>
<line x1="109.2" y1="344.1" x2="110" y2="369.6" stroke="#1828a0" stroke-width="1.3" stroke-linecap="round"/>
<line x1="109.2" y1="344.1" x2="105" y2="317.7" stroke="#1828a0" stroke-width="1.3" stroke-linecap="round"/>
<circle cx="32.6" cy="325.4" r="3.45" fill="url(#gC)"/>
<circle cx="25.4" cy="312" r="3.45" fill="url(#gC)"/>
<circle cx="36.8" cy="315" r="3.45" fill="url(#gC)"/>
<circle cx="19.1" cy="339.9" r="3.45" fill="url(#gC)"/>
<circle cx="77.2" cy="324.4" r="3.45" fill="url(#gC)"/>
<circle cx="58.5" cy="324.4" r="3.45" fill="url(#gC)"/>
<circle cx="82.4" cy="305.7" r="3.45" fill="url(#gC)"/>
<circle cx="88.6" cy="330.6" r="3.45" fill="url(#gC)"/>
<circle cx="138.2" cy="317.1" r="3.45" fill="url(#gC)"/>
<circle cx="129.3" cy="305.7" r="3.45" fill="url(#gC)"/>
<circle cx="146.5" cy="304.7" r="3.45" fill="url(#gC)"/>
<circle cx="148.6" cy="328.5" r="3.45" fill="url(#gC)"/>
<circle cx="39.5" cy="376.1" r="3.45" fill="url(#gC)"/>
<circle cx="27" cy="363.2" r="3.45" fill="url(#gC)"/>
<circle cx="30.5" cy="388.5" r="3.45" fill="url(#gC)"/>
<circle cx="47.1" cy="387.5" r="3.45" fill="url(#gC)"/>
<circle cx="80.3" cy="369.9" r="3.45" fill="url(#gC)"/>
<circle cx="60.6" cy="373.6" r="3.45" fill="url(#gC)"/>
<circle cx="88.6" cy="388.5" r="3.45" fill="url(#gC)"/>
<circle cx="89.6" cy="362.6" r="3.45" fill="url(#gC)"/>
<circle cx="143.7" cy="363.1" r="3.45" fill="url(#gC)"/>
<circle cx="144.4" cy="355.4" r="3.45" fill="url(#gC)"/>
<circle cx="161.8" cy="355.4" r="3.45" fill="url(#gC)"/>
<circle cx="143.7" cy="383.3" r="3.45" fill="url(#gC)"/>
<circle cx="119.6" cy="309.9" r="3.4" fill="url(#gC)"/>
<circle cx="120.6" cy="295.4" r="3.4" fill="url(#gC)"/>
<circle cx="104" cy="289.1" r="3.4" fill="url(#gC)"/>
<circle cx="87.4" cy="298.5" r="3.4" fill="url(#gC)"/>
<circle cx="89.5" cy="311.9" r="3.4" fill="url(#gC)"/>
<circle cx="125.5" cy="372.2" r="3.4" fill="url(#gC)"/>
<circle cx="128.1" cy="386.5" r="3.4" fill="url(#gC)"/>
<circle cx="113.9" cy="392.9" r="3.4" fill="url(#gC)"/>
<circle cx="97" cy="390.3" r="3.4" fill="url(#gC)"/>
<circle cx="95.7" cy="377.4" r="3.4" fill="url(#gC)"/>
<circle cx="48.6" cy="333.1" r="3.3" fill="url(#gO)"/>
<circle cx="54.2" cy="366" r="3.3" fill="url(#gO)"/>
<circle cx="81.7" cy="357.1" r="3.3" fill="url(#gO)"/>
<circle cx="80.9" cy="335.8" r="3.3" fill="url(#gO)"/>
<circle cx="129.3" cy="356.5" r="3.3" fill="url(#gO)"/>
<circle cx="124.7" cy="326.5" r="3.3" fill="url(#gO)"/>
<circle cx="110" cy="369.6" r="3.4" fill="url(#gN)"/>
<circle cx="105" cy="317.7" r="3.4" fill="url(#gN)"/>
<circle cx="63.1" cy="348.2" r="4.4" fill="url(#gFe)"/>
<circle cx="109.2" cy="344.1" r="8" fill="url(#gGd)"/>
<text x="43" y="328.6" font-size="7" fill="#1a1a1a" stroke="#1a1a1a" stroke-width="0.08" >O1</text>
<text x="66.4" y="337.5" font-size="7" fill="#1a1a1a" stroke="#1a1a1a" stroke-width="0.08" >O4</text>
<text x="48.2" y="349.8" font-size="7" fill="#1a1a1a" stroke="#1a1a1a" stroke-width="0.08" >Fe</text>
<text x="75.1" y="353" font-size="7" fill="#1a1a1a" stroke="#1a1a1a" stroke-width="0.08" >O3</text>
<text x="40.3" y="365.3" font-size="7" fill="#1a1a1a" stroke="#1a1a1a" stroke-width="0.08" >O2</text>
<text x="100.9" y="314.2" font-size="7" fill="#1a1a1a" stroke="#1a1a1a" stroke-width="0.08" >N2</text>
<text x="95.7" y="336.9" font-size="7" fill="#1a1a1a" stroke="#1a1a1a" stroke-width="0.08" >Gd</text>
<text x="122.7" y="337.5" font-size="7" fill="#1a1a1a" stroke="#1a1a1a" stroke-width="0.08" >O6</text>
<text x="125.8" y="353.4" font-size="7" fill="#1a1a1a" stroke="#1a1a1a" stroke-width="0.08" >O5</text>
<text x="112.5" y="366.2" font-size="7" fill="#1a1a1a" stroke="#1a1a1a" stroke-width="0.08" >N1</text>
<path d="M189.5 386.32 L189.86 382.17 L190.22 380.69 L190.58 377.34 L190.94 383.68 L191.3 387.63 L191.66 384.62 L192.02 385.79 L192.38 387.04 L192.74 382.32 L193.1 391.04 L193.46 394.4 L193.82 385.38 L194.18 391.21 L194.54 384.15 L194.9 385.96 L195.26 383.14 L195.62 385.22 L195.98 379.13 L196.34 382.77 L196.7 388.53 L197.06 384.86 L197.42 383.73 L197.78 385.23 L198.14 387.5 L198.5 384.65 L198.86 385.69 L199.22 380.14 L199.58 385.69 L199.94 382.55 L200.3 386.13 L200.66 384.12 L201.02 381.69 L201.38 383.96 L201.74 381.64 L202.1 386.61 L202.46 394.98 L202.82 388.48 L203.18 381.3 L203.54 394.38 L203.9 383.28 L204.26 387.37 L204.62 386.09 L204.98 381.25 L205.34 384.74 L205.7 382.59 L206.06 384.92 L206.42 387.43 L206.78 385.57 L207.14 392.17 L207.5 380.94 L207.86 384.32 L208.22 384.68 L208.58 386.46 L208.94 382.22 L209.3 385.14 L209.66 384.77 L210.02 379.93 L210.38 381.1 L210.74 384.75 L211.1 380.72 L211.46 380.58 L211.82 385.8 L212.18 384.27 L212.54 382.97 L212.9 383.79 L213.26 382.5 L213.62 382.16 L213.98 382.32 L214.34 384.39 L214.7 386.68 L215.06 382.23 L215.42 383.29 L215.78 382.81 L216.14 380.22 L216.5 383.93 L216.86 385.43 L217.22 381.18 L217.58 385.3 L217.94 381.81 L218.3 386.04 L218.66 386.18 L219.02 382.2 L219.38 378.19 L219.74 382.24 L220.1 379.64 L220.46 379.81 L220.82 382.41 L221.18 386.37 L221.54 385.38 L221.9 382.42 L222.26 378.36 L222.62 381.41 L222.98 379.44 L223.34 384.14 L223.7 381.53 L224.06 382.7 L224.42 385.33 L224.78 382.29 L225.14 385.08 L225.5 383.9 L225.86 381.88 L226.22 383.02 L226.58 383.98 L226.94 385.97 L227.3 382.88 L227.66 386.1 L228.02 381.03 L228.38 381.89 L228.74 378.76 L229.1 384.43 L229.46 379.82 L229.82 379.79 L230.18 384.39 L230.54 380.96 L230.9 380.38 L231.26 384.56 L231.62 381.72 L231.98 384.41 L232.34 381.11 L232.7 383.86 L233.06 384.69 L233.42 382.2 L233.78 386.4 L234.14 380.94 L234.5 381.36 L234.86 382.04 L235.22 384.29 L235.58 381.05 L235.94 380.64 L236.3 382.31 L236.66 384.73 L237.02 380.57 L237.38 378.4 L237.74 381.19 L238.1 383.01 L238.46 380.09 L238.82 381.69 L239.18 376.72 L239.54 381.35 L239.9 381.5 L240.26 382.74 L240.62 381.92 L240.98 383.01 L241.34 378.6 L241.7 382.64 L242.06 376.88 L242.42 379.43 L242.78 390.97 L243.14 382.9 L243.5 376.16 L243.86 382.13 L244.22 379.56 L244.58 378.64 L244.94 381 L245.3 380.75 L245.66 383.81 L246.02 376.73 L246.38 379.16 L246.74 379.8 L247.1 375.53 L247.46 382.89 L247.82 384.25 L248.18 379.56 L248.54 380.69 L248.9 378.99 L249.26 380.23 L249.62 377.8 L249.98 381.42 L250.34 376.41 L250.7 382.48 L251.06 379.92 L251.42 384.68 L251.78 375.03 L252.14 378.53 L252.5 375.74 L252.86 378.19 L253.22 379.28 L253.58 376.16 L253.94 374.87 L254.3 374.05 L254.66 377.83 L255.02 383.41 L255.38 379.08 L255.74 376.5 L256.1 375.98 L256.46 375.07 L256.82 372.62 L257.18 376.68 L257.54 376.57 L257.9 373.84 L258.26 374.51 L258.62 373.17 L258.98 375.46 L259.34 375.28 L259.7 371.45 L260.06 371.82 L260.42 371.1 L260.77 373.79 L261.12 373.39 L261.47 370.96 L261.82 374.26 L262.17 372.96 L262.53 369.09 L262.88 367.87 L263.23 370.03 L263.58 370.35 L263.93 369.05 L264.29 369.9 L264.64 370.54 L264.99 368.91 L265.34 369.57 L265.69 370.07 L266.05 368.6 L266.4 367.28 L266.75 367.88 L267.1 369.23 L267.45 368.58 L267.8 366.15 L268.16 364.97 L268.51 365.96 L268.86 365.56 L269.21 364.64 L269.56 364.8 L269.92 364.15 L270.27 364.1 L270.62 362.46 L270.97 361.91 L271.32 361.46 L271.68 360.39 L272.03 360.11 L272.38 359.48 L272.73 357.62 L273.08 357.02 L273.44 355.72 L273.79 354.75 L274.14 353.63 L274.49 352.39 L274.84 351.23 L275.19 350.08 L275.55 348.86 L275.9 347.68 L276.25 346.43 L276.6 345.25 L276.95 344.11 L277.31 342.84 L277.66 341.28 L278.01 339.22 L278.36 336 L278.71 331.78 L279.07 326.98 L279.42 321.45 L279.77 314.65 L280.13 308.03 L280.49 302.41 L280.85 296.74 L281.21 291.41 L281.57 288.29 L281.93 286.06 L282.29 284.45 L282.65 283.23 L283.01 283.16 L283.37 284.33" fill="none" stroke="#2a2aa0" stroke-width="0.7"/>
<path d="M189.5 385.27 L189.86 387.84 L190.22 387.57 L190.58 384.17 L190.94 384.58 L191.3 384.12 L191.66 386.25 L192.02 385.01 L192.38 386.57 L192.74 381.5 L193.1 388.14 L193.46 384.89 L193.82 386.39 L194.18 384.78 L194.54 384.29 L194.9 385.92 L195.26 386.61 L195.62 384.6 L195.98 384.68 L196.34 386.3 L196.7 393.98 L197.06 381.98 L197.42 385.69 L197.78 383.6 L198.14 381.14 L198.5 383.29 L198.86 383.95 L199.22 382.52 L199.58 381.92 L199.94 384.88 L200.3 386.54 L200.66 384.32 L201.02 383.31 L201.38 385.49 L201.74 386.12 L202.1 384.12 L202.46 389.65 L202.82 393.11 L203.18 384.25 L203.54 383.05 L203.9 385.3 L204.26 385.08 L204.62 386.73 L204.98 382.06 L205.34 383.26 L205.7 382.89 L206.06 381.13 L206.42 388.34 L206.78 389.17 L207.14 383.01 L207.5 387.13 L207.86 386.01 L208.22 385.61 L208.58 386.82 L208.94 386.22 L209.3 381.73 L209.66 392.43 L210.02 385.47 L210.38 380.82 L210.74 384.93 L211.1 383.74 L211.46 385.73 L211.82 383.33 L212.18 384.13 L212.54 384.81 L212.9 382.42 L213.26 386.71 L213.62 383.88 L213.98 385.02 L214.34 383.02 L214.7 391.01 L215.06 385.18 L215.42 383.63 L215.78 385.19 L216.14 386.39 L216.5 387.4 L216.86 380.82 L217.22 385.59 L217.58 384.75 L217.94 383.64 L218.3 381.83 L218.66 386.23 L219.02 381.29 L219.38 384.83 L219.74 390.49 L220.1 381.3 L220.46 383.07 L220.82 381.08 L221.18 384.08 L221.54 388.6 L221.9 387.51 L222.26 380.07 L222.62 382.39 L222.98 384.86 L223.34 386.54 L223.7 384.25 L224.06 381.95 L224.42 383.96 L224.78 383.32 L225.14 382.93 L225.5 381.87 L225.86 384.02 L226.22 383.84 L226.58 383.03 L226.94 382.75 L227.3 380.65 L227.66 382.18 L228.02 385.45 L228.38 382.69 L228.74 383.2 L229.1 385.6 L229.46 384 L229.82 387.05 L230.18 383.03 L230.54 381.97 L230.9 380.02 L231.26 385.39 L231.62 387.78 L231.98 381.14 L232.34 381.44 L232.7 383.83 L233.06 381.01 L233.42 382.07 L233.78 381.87 L234.14 382.89 L234.5 384.62 L234.86 382.48 L235.22 384.19 L235.58 381.54 L235.94 382.96 L236.3 378.11 L236.66 379.41 L237.02 383.75 L237.38 381 L237.74 383.24 L238.1 383.13 L238.46 384.6 L238.82 383.57 L239.18 383.92 L239.54 381.68 L239.9 380.49 L240.26 380.38 L240.62 380.8 L240.98 379.5 L241.34 380.59 L241.7 381.43 L242.06 382.05 L242.42 380.84 L242.78 377.7 L243.14 381.25 L243.5 381.78 L243.86 385.15 L244.22 382.35 L244.58 379.9 L244.94 379.68 L245.3 384.95 L245.66 382.44 L246.02 384.46 L246.38 386.75 L246.74 379.15 L247.1 381.42 L247.46 381.49 L247.82 381.6 L248.18 381.49 L248.54 380.74 L248.9 380.59 L249.26 377.23 L249.62 379.75 L249.98 378.51 L250.34 380.11 L250.7 378.87 L251.06 380.82 L251.42 381.06 L251.78 379.99 L252.14 379.88 L252.5 379.35 L252.86 378.26 L253.22 378.58 L253.58 377.81 L253.94 379.07 L254.3 378.18 L254.66 378.81 L255.02 375.46 L255.38 378.63 L255.74 375.74 L256.1 375.46 L256.46 377.56 L256.82 375.02 L257.18 375.89 L257.54 375.97 L257.9 373.28 L258.26 373.25 L258.62 375.76 L258.98 373.75 L259.34 371.89 L259.7 373.06 L260.06 370.87 L260.42 374.6 L260.78 370.45 L261.14 372.49 L261.5 372.3 L261.86 369.9 L262.22 371.53 L262.58 372 L262.94 371.2 L263.3 370.92 L263.66 371.15 L264.02 370.16 L264.38 370.06 L264.74 369.39 L265.1 369.76 L265.46 368.2 L265.82 369.28 L266.18 367.98 L266.54 367.73 L266.9 367.96 L267.26 369.41 L267.62 368.96 L267.98 366.36 L268.34 366.72 L268.7 365.66 L269.06 365.44 M297.5 364.14 L297.86 364.07 L298.22 365.26 L298.58 367.33 L298.94 365.43 L299.3 366.75 L299.66 367.4 L300.02 367.68 L300.38 367.01 L300.74 367.86 L301.1 369.33 L301.46 369.48 L301.82 372.38 L302.18 369.93 L302.54 370.97 L302.9 373.39 L303.26 371.07 L303.62 371.33 L303.98 372.36 L304.34 372.71 L304.7 373.81 L305.06 373.56 L305.42 373.13 L305.78 374.32 L306.14 376.88 L306.5 375.97 L306.86 372.42 L307.22 375.26 L307.58 374.82 L307.94 376.63 L308.3 376.1 L308.66 378.62 L309.02 377.85 L309.38 378.09 L309.74 377.57 L310.1 377.56 L310.46 378.25 L310.82 379.62 L311.18 378.96 L311.54 378.1 L311.9 380.34 L312.26 379.2 L312.62 379.07 L312.98 380.57 L313.34 378.82 L313.7 378.91 L314.06 376.12 L314.42 381.57 L314.78 381.14 L315.14 384.78 L315.5 382.22 L315.86 381.51 L316.22 381.59 L316.58 377.49 L316.94 381.01 L317.3 382.31 L317.66 384.09 L318.02 384.58 L318.38 384.11 L318.74 380.37 L319.1 380.11 L319.46 383.25 L319.82 382.57 L320.18 385.36 L320.54 382.61 L320.9 383.26 L321.26 380.81 L321.62 383.86 L321.98 382.65 L322.34 383.97 L322.7 384.26 L323.06 383.52 L323.42 384.29 L323.78 383.91 L324.14 385.19 L324.5 384.92 L324.86 383.46 L325.22 383.51 L325.58 387.12 L325.94 384.46 L326.3 386.2 L326.66 389.37 L327.02 384.06 L327.38 383.88 L327.74 385.28 L328.1 385.57 L328.46 386.19 L328.82 383.45 L329.18 384.54 L329.54 385.37 L329.9 387.98 L330.26 382.11 L330.62 386.38 L330.98 384.97 L331.34 386.5 L331.7 385.18 L332.06 388.9 L332.42 388.39 L332.78 386.63 L333.14 386.81 L333.5 393.37 L333.86 385.15 L334.22 387.15 L334.58 386.08 L334.94 392.04 L335.3 386.44 L335.66 386.21 L336.02 387.73 L336.38 386.58 L336.74 385.9 L337.1 388.92 L337.46 388.27 L337.82 388.73 L338.18 387.78 L338.54 386.75 L338.9 386.32 L339.26 386.57 L339.62 388.45 L339.98 387.23 L340.34 384.87 L340.7 387.07 L341.06 385.04 L341.42 387.44 L341.78 385.42 L342.14 385.35 L342.5 387.46 L342.86 387.19 L343.22 384.84 L343.58 388.48 L343.94 390.63 L344.3 385.19 L344.66 390.17 L345.02 386.43 L345.38 386.74 L345.74 387.24 L346.1 390.05 L346.46 389.5 L346.82 388.32 L347.18 388.78 L347.54 387.2 L347.9 385.37 L348.26 387.14 L348.62 389.09 L348.98 385.13 L349.34 387.07 L349.7 387.96 L350.06 389.33 L350.42 389.8 L350.78 387.11 L351.14 386.71 L351.5 388.51 L351.86 387.31 L352.22 387.41 L352.58 389.51 L352.94 390.44 L353.3 388.32 L353.66 387.65 L354.02 388.81 L354.38 385.14 L354.74 390.61 L355.1 386.41 L355.46 391.6 L355.82 389.11 L356.18 388.26 L356.54 387.77 L356.9 386.27 L357.26 389.71 L357.62 390.55 L357.98 387.03 L358.34 389.16 L358.7 389.23 L359.06 385.84 L359.42 389.58 L359.78 390.22 L360.14 388.55 L360.5 388.12 L360.86 389.41 L361.22 385.93 L361.58 388.4 L361.94 389.85 L362.3 386.42 L362.66 389.79 L363.02 387.68 L363.38 385.2 L363.74 388.18 L364.1 386.89 L364.46 388.84 L364.82 386.62 L365.18 389.96 L365.54 387.29 L365.9 388.95 L366.26 387.53 L366.62 391.17 L366.98 390.24 L367.34 388.78 L367.7 387.88 L368.06 386.6 L368.42 390.23 L368.78 389.6 L369.14 388.02 L369.5 388.89 L369.86 386.99 L370.22 387.02 L370.58 387.32 L370.94 389.1 L371.3 389.02 L371.66 387.47 L372.02 389.7 L372.38 389.78 L372.74 388.87 L373.1 390.18 L373.46 388.2 L373.82 388.47 L374.18 389.36 L374.54 388.6 L374.9 389.85 L375.26 386.79 L375.62 390.82 L375.98 387.51 L376.34 388.44 L376.7 386.63" fill="none" stroke="#c0c450" stroke-width="0.65"/>
<path d="M189.5 385.58 L189.86 388.04 L190.22 387.31 L190.58 387.26 L190.94 389.35 L191.3 382.72 L191.66 392.44 L192.02 382.43 L192.38 385.26 L192.74 387.84 L193.1 385.43 L193.46 392.82 L193.82 380.99 L194.18 385.79 L194.54 383.31 L194.9 389.57 L195.26 387.48 L195.62 387.61 L195.98 385.24 L196.34 386.8 L196.7 386.89 L197.06 384.53 L197.42 384.16 L197.78 385.04 L198.14 383.87 L198.5 383.88 L198.86 384.59 L199.22 383.54 L199.58 392.26 L199.94 381.47 L200.3 387.12 L200.66 383.71 L201.02 383.88 L201.38 381.98 L201.74 384.79 L202.1 384.53 L202.46 385.54 L202.82 383.82 L203.18 385.28 L203.54 389.3 L203.9 385.98 L204.26 384.66 L204.62 393.79 L204.98 384.66 L205.34 386.34 L205.7 386.36 L206.06 383.99 L206.42 380.37 L206.78 384.06 L207.14 386.14 L207.5 383.94 L207.86 394.5 L208.22 389.47 L208.58 383.5 L208.94 387.63 L209.3 388.53 L209.66 394.36 L210.02 387.42 L210.38 387.24 L210.74 389.93 L211.1 385.06 L211.46 384.61 L211.82 386 L212.18 382.44 L212.54 380.91 L212.9 386.74 L213.26 385.38 L213.62 385.59 L213.98 380.87 L214.34 380.03 L214.7 383.68 L215.06 383.96 L215.42 384.26 L215.78 385.92 L216.14 387.21 L216.5 384.85 L216.86 385.72 L217.22 395.61 L217.58 381.49 L217.94 384.77 L218.3 385.75 L218.66 385.87 L219.02 385.54 L219.38 388.79 L219.74 386 L220.1 379.98 L220.46 382.34 L220.82 385.1 L221.18 385.4 L221.54 380.45 L221.9 386.7 L222.26 387.89 L222.62 383.37 L222.98 384.52 L223.34 385.61 L223.7 380.48 L224.06 386.12 L224.42 383.96 L224.78 381.95 L225.14 383.08 L225.5 378.58 L225.86 382.15 L226.22 384.07 L226.58 381.95 L226.94 382.82 L227.3 388.57 L227.66 383.64 L228.02 385.88 L228.38 383.41 L228.74 382.83 L229.1 384.66 L229.46 388.23 L229.82 382.54 L230.18 385.65 L230.54 379.58 L230.9 386.39 L231.26 390.69 L231.62 386.29 L231.98 389.11 L232.34 380.66 L232.7 385.14 L233.06 384.79 L233.42 380.96 L233.78 379.51 L234.14 383.97 L234.5 382.48 L234.86 388.95 L235.22 381.37 L235.58 381.53 L235.94 382.46 L236.3 378.79 L236.66 380.56 L237.02 386.45 L237.38 382.25 L237.74 381.09 L238.1 379.49 L238.46 383.78 L238.82 386.24 L239.18 382.94 L239.54 393.61 L239.9 382.96 L240.26 383.09 L240.62 380.56 L240.98 383.56 L241.34 377.11 L241.7 378.99 L242.06 386.33 L242.42 381.65 L242.78 379.13 L243.14 382.56 L243.5 384.21 L243.86 382.74 L244.22 382.15 L244.58 383.5 L244.94 382.44 L245.3 378.76 L245.66 380.89 L246.02 384.31 L246.38 378.56 L246.74 381.29 L247.1 380.16 L247.46 378.89 L247.82 378.55 L248.18 381.07 L248.54 381.48 L248.9 381.38 L249.26 377.18 L249.62 379.79 L249.98 381.18 L250.34 382.47 L250.7 381.7 L251.06 381.92 L251.42 382.37 L251.78 381.61 L252.14 390.38 L252.5 379.67 L252.86 377.9 L253.22 374.29 L253.58 375.58 L253.94 382.95 L254.3 376.29 L254.66 373.86 L255.02 376.78 L255.38 380.42 L255.74 377.14 L256.1 377.61 L256.46 376.03 L256.82 376 L257.18 377.94 L257.54 376.73 L257.9 374.88 L258.26 376.1 L258.62 376 L258.98 373.62 L259.34 374.03 L259.7 373.68 L260.06 372.03 L260.42 374.36 L260.78 372.22 L261.14 371.35 L261.5 369.71 L261.86 370.05 L262.22 374.16 L262.58 369.79 L262.94 371.46 L263.3 370.27 L263.66 371.78 L264.02 370.86 L264.38 369.12 L264.74 369.38 L265.1 373.66 L265.46 369.23 L265.82 368.8 L266.18 368.23 L266.54 368.73 L266.9 368.95 L267.26 367.95 L267.62 371.19 L267.98 367.27 L268.34 366.47 L268.7 366.53 L269.06 366.8 M297.5 364.23 L297.86 363.7 L298.22 364.95 L298.58 366.66 L298.94 366.34 L299.3 367.27 L299.66 367.14 L300.02 367.33 L300.38 369.73 L300.74 369.04 L301.1 370.4 L301.46 373.52 L301.82 372.26 L302.18 368.8 L302.54 371.18 L302.9 370.15 L303.26 370.51 L303.62 373.46 L303.98 373.37 L304.34 374.1 L304.7 373.46 L305.06 373.73 L305.42 374.56 L305.78 374.62 L306.14 374.87 L306.5 375.95 L306.86 374.34 L307.22 376.81 L307.58 375.3 L307.94 377.41 L308.3 378.13 L308.66 375.86 L309.02 378.25 L309.38 378.52 L309.74 377.78 L310.1 377.24 L310.46 378.37 L310.82 375.26 L311.18 378.02 L311.54 379.16 L311.9 378.43 L312.26 376.88 L312.62 378.92 L312.98 382.13 L313.34 382.07 L313.7 379.95 L314.06 379.01 L314.42 380.51 L314.78 380.75 L315.14 379.74 L315.5 380.5 L315.86 382.38 L316.22 383.13 L316.58 377.21 L316.94 385.69 L317.3 382.17 L317.66 384.15 L318.02 382.19 L318.38 383.17 L318.74 385.48 L319.1 377.31 L319.46 385.67 L319.82 383.28 L320.18 379.79 L320.54 378.4 L320.9 383.9 L321.26 381.62 L321.62 385.4 L321.98 384.11 L322.34 383.61 L322.7 385.77 L323.06 384.45 L323.42 385.56 L323.78 385.84 L324.14 385.04 L324.5 385.99 L324.86 387.15 L325.22 382.33 L325.58 384.41 L325.94 388.86 L326.3 384.43 L326.66 382.35 L327.02 384.29 L327.38 386.02 L327.74 385.85 L328.1 388.33 L328.46 385.15 L328.82 384.98 L329.18 384.8 L329.54 385.34 L329.9 384.9 L330.26 382.68 L330.62 386.74 L330.98 387.97 L331.34 388.27 L331.7 384.36 L332.06 386.03 L332.42 389.77 L332.78 390.15 L333.14 387.19 L333.5 386.35 L333.86 388.49 L334.22 388.48 L334.58 390.98 L334.94 387.74 L335.3 387.7 L335.66 389.62 L336.02 386.26 L336.38 385.78 L336.74 386.5 L337.1 384.78 L337.46 389.38 L337.82 385.33 L338.18 390.46 L338.54 385.05 L338.9 387.98 L339.26 390.38 L339.62 385.95 L339.98 388.12 L340.34 387.38 L340.7 388.04 L341.06 388.32 L341.42 386.45 L341.78 387.3 L342.14 386.85 L342.5 386.19 L342.86 385.5 L343.22 391.06 L343.58 386.43 L343.94 388.98 L344.3 388.81 L344.66 386.04 L345.02 395.43 L345.38 386.34 L345.74 389.04 L346.1 394.24 L346.46 386.67 L346.82 386.3 L347.18 388.62 L347.54 400.62 L347.9 387.37 L348.26 385.79 L348.62 389.55 L348.98 387.78 L349.34 388.06 L349.7 386.34 L350.06 384.15 L350.42 386.85 L350.78 386.3 L351.14 385.29 L351.5 386.26 L351.86 386.53 L352.22 389.7 L352.58 396.15 L352.94 389.22 L353.3 387.34 L353.66 386.05 L354.02 388.87 L354.38 390.38 L354.74 390.17 L355.1 388.33 L355.46 392.66 L355.82 388.97 L356.18 386.76 L356.54 387 L356.9 389.61 L357.26 386.21 L357.62 392.56 L357.98 389.91 L358.34 388.95 L358.7 389.31 L359.06 386.55 L359.42 388.34 L359.78 388.1 L360.14 389.68 L360.5 389.37 L360.86 388.69 L361.22 392.07 L361.58 389.65 L361.94 388.17 L362.3 387.6 L362.66 388.65 L363.02 390.4 L363.38 391.7 L363.74 389.79 L364.1 388.22 L364.46 387.62 L364.82 395.45 L365.18 388.33 L365.54 391.2 L365.9 390.37 L366.26 388.77 L366.62 394.53 L366.98 385.54 L367.34 390.28 L367.7 388.52 L368.06 394.79 L368.42 388.62 L368.78 388.09 L369.14 392.29 L369.5 387.84 L369.86 391.41 L370.22 389.53 L370.58 389.68 L370.94 389.64 L371.3 388.41 L371.66 389.93 L372.02 389.39 L372.38 392.25 L372.74 389.21 L373.1 394.27 L373.46 388.3 L373.82 388.47 L374.18 388.6 L374.54 391.5 L374.9 389.34 L375.26 390.96 L375.62 388.75 L375.98 388.58 L376.34 385.78 L376.7 390.75" fill="none" stroke="#4fb8a0" stroke-width="0.75"/>
<path d="M189.5 388.8 L189.86 378.59 L190.22 386.97 L190.58 389.21 L190.94 387.7 L191.3 385.75 L191.66 388.74 L192.02 390.32 L192.38 383.84 L192.74 386.11 L193.1 385.78 L193.46 395.93 L193.82 388.09 L194.18 386.34 L194.54 386.3 L194.9 383.79 L195.26 384.04 L195.62 381.03 L195.98 388.27 L196.34 384.3 L196.7 387.53 L197.06 385.6 L197.42 388.76 L197.78 387.9 L198.14 385.35 L198.5 387.75 L198.86 382.68 L199.22 387.26 L199.58 381.55 L199.94 385.32 L200.3 386.81 L200.66 385.04 L201.02 383.8 L201.38 382.87 L201.74 383.81 L202.1 386.69 L202.46 386.34 L202.82 383.93 L203.18 381.86 L203.54 385.84 L203.9 381.4 L204.26 384.25 L204.62 382.85 L204.98 385.91 L205.34 393.18 L205.7 385.29 L206.06 384.87 L206.42 382.88 L206.78 385.38 L207.14 387.19 L207.5 387.04 L207.86 385.53 L208.22 383.93 L208.58 386.31 L208.94 385.54 L209.3 385.95 L209.66 384.84 L210.02 387.5 L210.38 383.32 L210.74 383.36 L211.1 385.39 L211.46 385.28 L211.82 382.69 L212.18 382.63 L212.54 385.46 L212.9 386.34 L213.26 385.1 L213.62 378.3 L213.98 381.88 L214.34 381.61 L214.7 381.31 L215.06 382.95 L215.42 387.56 L215.78 383.11 L216.14 382.2 L216.5 385.16 L216.86 383.83 L217.22 384.78 L217.58 382.21 L217.94 383.62 L218.3 384.5 L218.66 379.6 L219.02 380.2 L219.38 385.78 L219.74 385.26 L220.1 382.43 L220.46 381.33 L220.82 383.05 L221.18 380.93 L221.54 382.68 L221.9 386.79 L222.26 386.91 L222.62 385.74 L222.98 382.82 L223.34 384.03 L223.7 386.11 L224.06 380.43 L224.42 382.46 L224.78 382.83 L225.14 383.71 L225.5 386.33 L225.86 384.5 L226.22 379.93 L226.58 382.45 L226.94 381.12 L227.3 381.04 L227.66 387.14 L228.02 380.68 L228.38 383.36 L228.74 381.35 L229.1 384.59 L229.46 387.42 L229.82 383 L230.18 382.55 L230.54 385.04 L230.9 380.7 L231.26 381.09 L231.62 380.25 L231.98 385.31 L232.34 381.89 L232.7 380.31 L233.06 381.56 L233.42 387.59 L233.78 382.13 L234.14 384.09 L234.5 387.74 L234.86 382.22 L235.22 380.76 L235.58 381.47 L235.94 381.39 L236.3 377.49 L236.66 387.43 L237.02 383.92 L237.38 382.2 L237.74 381.49 L238.1 380.23 L238.46 383.8 L238.82 381.39 L239.18 385.88 L239.54 378.81 L239.9 382.44 L240.26 385.76 L240.62 380.95 L240.98 383.17 L241.34 381.53 L241.7 386.51 L242.06 383.58 L242.42 381.43 L242.78 380.09 L243.14 381.79 L243.5 381.22 L243.86 379.79 L244.22 381.97 L244.58 381.86 L244.94 379.05 L245.3 389.68 L245.66 386.84 L246.02 382.39 L246.38 380.82 L246.74 385.77 L247.1 379.52 L247.46 375.24 L247.82 376.35 L248.18 377.07 L248.54 380.68 L248.9 382.08 L249.26 375.45 L249.62 382.19 L249.98 379.02 L250.34 380.2 L250.7 380.51 L251.06 380.33 L251.42 380.01 L251.78 379.57 L252.14 376.93 L252.5 379.53 L252.86 381.84 L253.22 380.39 L253.58 383.21 L253.94 381.78 L254.3 379.26 L254.66 380.57 L255.02 377.81 L255.38 374.94 L255.74 373.09 L256.1 378.46 L256.46 376.95 L256.82 377.01 L257.18 374.82 L257.54 375.48 L257.9 377.36 L258.26 374.73 L258.62 372.33 L258.98 372.96 L259.34 375.1 L259.7 376.82 L260.06 369.3 L260.42 369.46 L260.79 370.44 L261.16 375.86 L261.53 371.69 L261.9 370.48 L262.27 371.15 L262.63 370.75 L263 370.47 L263.37 369.82 L263.74 369.92 L264.11 369.18 L264.47 371.38 L264.84 367.24 L265.21 369.26 L265.58 369.01 L265.95 369.17 L266.31 370.51 L266.68 369.62 L267.05 368.03 L267.42 367.45 L267.79 367.65 L268.16 365.7 L268.52 366.84 L268.89 365.73 L269.26 365.67 L269.63 365.86 L270 365.13 L270.36 365.02 L270.73 362.51 L271.1 362.56 L271.47 362.7 L271.84 361.12 L272.2 360.6 L272.57 360.24 L272.94 359.28 L273.31 357.43 L273.68 356.76 L274.04 355.76 L274.41 354.6 L274.78 353.49 L275.15 352.41 L275.52 351.14 L275.89 350.1 L276.25 348.87 L276.62 347.68 L276.99 346.43 L277.36 345.25 L277.73 344.11 L278.09 342.84 L278.46 341.28 L278.83 339.22 L279.2 336 L279.57 331.78 L279.93 326.98 L280.3 321.45 L280.67 314.65 L281.03 308.03 L281.39 302.41 L281.75 296.74 L282.11 291.41 L282.47 288.29 L282.83 286.06 L283.19 284.45 L283.55 283.23 L283.91 283.16 L284.27 284.33 L284.63 285.82 L284.99 287.49 L285.35 289.6 L285.71 292.39 L286.07 296.52 L286.43 300.95 L286.79 305.36 L287.14 311.42 L287.49 319.63 L287.84 327.48 L288.19 334.63 L288.55 341.29 L288.9 344.62 L289.25 347.06 L289.6 348.88 L289.95 350.24 L290.31 351.33 L290.66 352.28 L291.01 353.14 L291.36 353.87 L291.71 354.56 L292.07 355.18 L292.42 355.73 L292.77 356.67 L293.12 356.57 L293.47 357.27 L293.82 358.11 L294.18 359.33 L294.53 359.29 L294.88 359.82 L295.23 360.55 L295.58 361.2 L295.94 362.02 L296.29 362.12 L296.64 362.26 L296.99 363.18 L297.34 362.66 L297.7 364.03 L298.05 364.29 L298.4 364.99 L298.75 368.46 L299.1 367.27 L299.46 365.68 L299.81 366.79 L300.16 367.01 L300.51 367.97 L300.86 368.7 L301.21 369.63 L301.57 369.92 L301.92 370.8 L302.27 371.25 L302.62 371.3 L302.97 369.99 L303.33 371.11 L303.68 375.32 L304.03 370.78 L304.38 372.46 L304.73 372.19 L305.09 374.43 L305.44 374.74 L305.79 373.4 L306.14 380.33 L306.5 372.03 L306.86 375.83 L307.22 375.63 L307.58 376.98 L307.94 373.25 L308.3 376.52 L308.66 377.98 L309.02 373.66 L309.38 384.39 L309.74 377.1 L310.1 378.43 L310.46 377.93 L310.82 378.63 L311.18 378.72 L311.54 378.22 L311.9 377.7 L312.26 377.4 L312.62 382.68 L312.98 379.41 L313.34 382.01 L313.7 378.93 L314.06 382.12 L314.42 380.48 L314.78 381.92 L315.14 379.15 L315.5 379.13 L315.86 380.17 L316.22 382.26 L316.58 381.28 L316.94 382.36 L317.3 381.82 L317.66 383.11 L318.02 381.94 L318.38 380.93 L318.74 382.74 L319.1 382.2 L319.46 384.99 L319.82 382.08 L320.18 382.64 L320.54 382.11 L320.9 384.58 L321.26 384.26 L321.62 384.03 L321.98 381.12 L322.34 380.82 L322.7 388.02 L323.06 384.65 L323.42 385.98 L323.78 380.86 L324.14 383.58 L324.5 381.26 L324.86 382.54 L325.22 383.84 L325.58 385.84 L325.94 383.56 L326.3 383.36 L326.66 384.82 L327.02 386.72 L327.38 392.07 L327.74 382.43 L328.1 384.55 L328.46 384.38 L328.82 387.02 L329.18 385.93 L329.54 391.78 L329.9 383.76 L330.26 385.47 L330.62 387.21 L330.98 383.83 L331.34 385.4 L331.7 383.82 L332.06 389.25 L332.42 386.51 L332.78 384.27 L333.14 384.99 L333.5 388.79 L333.86 385.31 L334.22 387.24 L334.58 387.12 L334.94 387.99 L335.3 387.31 L335.66 386.01 L336.02 385.45 L336.38 383.61 L336.74 386.42 L337.1 386.76 L337.46 386.01 L337.82 386.4 L338.18 384.73 L338.54 390.19 L338.9 385.95 L339.26 385.14 L339.62 385.87 L339.98 386.6 L340.34 388.09 L340.7 383.05 L341.06 387.79 L341.42 386.01 L341.78 386.74 L342.14 388.68 L342.5 388.31 L342.86 386.02 L343.22 386.98 L343.58 390.16 L343.94 389.37 L344.3 388.6 L344.66 387.25 L345.02 388.81 L345.38 387.92 L345.74 386.44 L346.1 385.74 L346.46 388.2 L346.82 387.99 L347.18 389.34 L347.54 392.15 L347.9 389.69 L348.26 386.88 L348.62 389.5 L348.98 392.88 L349.34 386.61 L349.7 390.92 L350.06 387.38 L350.42 387.16 L350.78 389.11 L351.14 386.52 L351.5 388.56 L351.86 387.63 L352.22 390.75 L352.58 392.19 L352.94 386.72 L353.3 387.29 L353.66 388.25 L354.02 386.7 L354.38 387.38 L354.74 387.35 L355.1 386.13 L355.46 386.83 L355.82 387.06 L356.18 388.23 L356.54 390.73 L356.9 388.05 L357.26 386.33 L357.62 386.62 L357.98 386.13 L358.34 394.36 L358.7 389.97 L359.06 390.12 L359.42 389.28 L359.78 387.62 L360.14 388.12 L360.5 388.49 L360.86 388.75 L361.22 389 L361.58 390.51 L361.94 383.34 L362.3 387.2 L362.66 389.19 L363.02 391.11 L363.38 387.88 L363.74 390.53 L364.1 388.46 L364.46 391.02 L364.82 388.11 L365.18 388.57 L365.54 386.5 L365.9 385.04 L366.26 387.56 L366.62 388.34 L366.98 387.7 L367.34 386.1 L367.7 389.32 L368.06 388.4 L368.42 388.31 L368.78 387.06 L369.14 390.95 L369.5 393.46 L369.86 388.83 L370.22 388.16 L370.58 388.76 L370.94 391.08 L371.3 392.87 L371.66 388.41 L372.02 388.31 L372.38 388.7 L372.74 394.65 L373.1 386.66 L373.46 389.83 L373.82 391.26 L374.18 390.58 L374.54 389.23 L374.9 385.87 L375.26 388.71 L375.62 389.14 L375.98 390.33 L376.34 385.8 L376.7 387.77" fill="none" stroke="#1e2a2a" stroke-width="0.7"/>
<path d="M283.37 284.33 L283.73 285.82 L284.09 287.49 L284.45 289.6 L284.81 292.39 L285.17 296.52 L285.53 300.95 L285.89 305.36 L286.26 311.42 L286.63 319.63 L287 327.48 L287.37 334.63 L287.73 341.29 L288.1 343.98 L288.47 346.03 L288.84 347.01 L289.21 347.77 L289.57 348.46 L289.94 349.07 L290.31 349.62 L290.68 350.11 L291.05 350.56 L291.41 350.95 L291.78 351.31 L292.15 351.64 L292.52 351.95 L292.89 352.23 L293.26 352.51 L293.62 352.78 L293.99 353.05 L294.36 353.34 L294.73 353.62 L295.1 353.9 L295.46 354.16 L295.83 354.4 L296.2 354.64 L296.57 354.87 L296.94 355.09 L297.3 355.3 L297.67 355.51 L298.04 355.71 L298.41 355.91 L298.78 356.1 L299.14 356.29 L299.51 356.48 L299.88 356.67 L300.25 356.86 L300.62 357.06 L300.99 357.25 L301.35 357.45 L301.72 357.63 L302.09 357.81 L302.46 357.99 L302.83 358.16 L303.19 358.33 L303.56 358.5 L303.93 358.66 L304.3 358.83 L304.67 359 L305.03 359.18 L305.4 359.35 L305.77 359.54 L306.14 359.73 L306.5 359.93 L306.86 360.13 L307.22 360.35 L307.58 360.58 L307.94 360.83 L308.3 361.09 L308.66 361.37 L309.02 361.66 L309.38 361.96 L309.74 362.26 L310.1 362.58 L310.46 362.9 L310.82 363.23 L311.18 363.56 L311.54 363.89 L311.9 364.21 L312.26 364.54 L312.62 364.86 L312.98 365.18 L313.34 365.49 L313.7 365.79 L314.06 366.08 L314.42 366.35 L314.78 366.62 L315.14 366.87 L315.5 367.11 L315.86 367.34 L316.22 367.57 L316.58 367.8 L316.94 368.02 L317.3 368.23 L317.66 368.45 L318.02 368.66 L318.38 368.86 L318.74 369.07 L319.1 369.28 L319.46 369.48 L319.82 369.69 L320.18 369.9 L320.54 370.11 L320.9 370.32 L321.26 370.54 L321.62 370.76 L321.98 370.98 L322.34 371.21 L322.7 371.45 L323.06 371.69 L323.42 371.92 L323.78 372.17 L324.14 372.47 L324.5 372.65 L324.86 372.77 L325.22 373.07 L325.58 373.31 L325.94 373.58 L326.3 373.76 L326.66 374.26 L327.02 374.44 L327.38 374.63 L327.74 374.64 L328.1 375.22 L328.46 375.43 L328.82 376.01 L329.18 375.33 L329.54 376.33 L329.9 376.38 L330.26 375.62 L330.62 376.29 L330.98 377.64 L331.34 376.47 L331.7 376.14 L332.06 376.71 L332.42 376.07 L332.78 377.54 L333.14 376.77 L333.5 377.22 L333.86 378.62 L334.22 377.45 L334.58 377.51 L334.94 377.8 L335.3 377.38 L335.66 377.73 L336.02 377.02 L336.38 377.13 L336.74 377.34 L337.1 377.28 L337.46 377.06 L337.82 377.7 L338.18 378.77 L338.54 378.68 L338.9 378.06 L339.26 378.76 L339.62 378.88 L339.98 381.05 L340.34 377.22 L340.7 379 L341.06 377.57 L341.42 380.13 L341.78 378.74 L342.14 379.48 L342.5 379.3 L342.86 379.89 L343.22 376.06 L343.58 378 L343.94 379.41 L344.3 377.87 L344.66 380.07 L345.02 380.94 L345.38 377.99 L345.74 379.07 L346.1 380.42 L346.46 381.98 L346.82 381.04 L347.18 380.74 L347.54 378.71 L347.9 379.94 L348.26 380.12 L348.62 379.17 L348.98 380.62 L349.34 379.66 L349.7 379.51 L350.06 383.28 L350.42 380 L350.78 383.08 L351.14 382.98 L351.5 380.27 L351.86 378.51 L352.22 379.58 L352.58 383.04 L352.94 380.6 L353.3 377.37 L353.66 383 L354.02 379.22 L354.38 380.04 L354.74 380.72 L355.1 377.6 L355.46 383.57 L355.82 385.1 L356.18 380.38 L356.54 389.84 L356.9 380.53 L357.26 380.01 L357.62 380.71 L357.98 378.48 L358.34 380.47 L358.7 380.23 L359.06 384.95 L359.42 378.61 L359.78 383.82 L360.14 382.83 L360.5 381.81 L360.86 380.44 L361.22 386.5 L361.58 384.42 L361.94 381.63 L362.3 381.39 L362.66 382.16 L363.02 385.31 L363.38 380.18 L363.74 382.1 L364.1 384.14 L364.46 379.41 L364.82 386.63 L365.18 384.23 L365.54 382.61 L365.9 382 L366.26 379.33 L366.62 383.01 L366.98 380.11 L367.34 381.64 L367.7 383.06 L368.06 381.41 L368.42 384.15 L368.78 383.9 L369.14 383.5 L369.5 384.49 L369.86 382.36 L370.22 378.63 L370.58 384.38 L370.94 384.25 L371.3 381.93 L371.66 381.28 L372.02 385.09 L372.38 382.05 L372.74 382.25 L373.1 382.17 L373.46 387.47 L373.82 381.72 L374.18 378.21 L374.54 382.91 L374.9 381.17 L375.26 379.83 L375.62 383.38 L375.98 382.14 L376.34 384.83 L376.7 382.57" fill="none" stroke="#2a2aa0" stroke-width="0.7"/>
<path d="M215.2 384 L215.5 399 L215.9 386" fill="none" stroke="#222" stroke-width="0.7"/>
<path d="M307.0 359 V382" stroke="#e0407a" stroke-width="0.8" stroke-dasharray="0.8 1.2"/>
<rect x="189.2" y="267" width="187.7" height="140.8" fill="none" stroke="#9a9a9a" stroke-width="1.0"/>
<path d="M194.24 407.8 V406.5 M199.63 407.8 V406.5 M205.02 407.8 V406.5 M210.41 407.8 V406.5 M215.8 407.8 V405.2 M221.19 407.8 V406.5 M226.58 407.8 V406.5 M231.97 407.8 V406.5 M237.36 407.8 V406.5 M242.75 407.8 V406.5 M248.14 407.8 V406.5 M253.53 407.8 V406.5 M258.92 407.8 V406.5 M264.31 407.8 V406.5 M269.7 407.8 V405.2 M275.09 407.8 V406.5 M280.48 407.8 V406.5 M285.87 407.8 V406.5 M291.26 407.8 V406.5 M296.65 407.8 V406.5 M302.04 407.8 V406.5 M307.43 407.8 V406.5 M312.82 407.8 V406.5 M318.21 407.8 V406.5 M323.6 407.8 V405.2 M328.99 407.8 V406.5 M334.38 407.8 V406.5 M339.77 407.8 V406.5 M345.16 407.8 V406.5 M350.55 407.8 V406.5 M355.94 407.8 V406.5 M361.33 407.8 V406.5 M366.72 407.8 V406.5 M372.11 407.8 V406.5" stroke="#555" stroke-width="0.7"/>
<text x="216.3" y="418.5" font-size="10" fill="#1a1a1a" stroke="#1a1a1a" stroke-width="0.22" text-anchor="middle" >44</text>
<text x="266.04" y="418.5" font-size="10" fill="#1a1a1a" stroke="#1a1a1a" stroke-width="0.22" text-anchor="middle" >46</text>
<text x="315.78" y="418.5" font-size="10" fill="#1a1a1a" stroke="#1a1a1a" stroke-width="0.22" text-anchor="middle" >48</text>
<text x="365.52" y="418.5" font-size="10" fill="#1a1a1a" stroke="#1a1a1a" stroke-width="0.22" text-anchor="middle" >50</text>
<text x="273.2" y="429.2" font-size="10.6" fill="#1a1a1a" stroke="#1a1a1a" stroke-width="0.22" textLength="36.8" lengthAdjust="spacingAndGlyphs" >2θ (deg)</text>
<text transform="translate(182.6 382.8) rotate(-90)" font-size="10" fill="#1a1a1a" stroke="#1a1a1a" stroke-width="0.22" textLength="87.3" lengthAdjust="spacingAndGlyphs" >Log Int (arb. Units.)</text>
<text transform="translate(274.5 338.3) rotate(-90)" font-size="9" fill="#1a1a1a" stroke="#1a1a1a" stroke-width="0.22" textLength="39.5" lengthAdjust="spacingAndGlyphs" >STO(200)</text>
<text transform="translate(310.4 350.8) rotate(-90)" font-size="9" fill="#d8246c" stroke="#d8246c" stroke-width="0.22" textLength="51.4" lengthAdjust="spacingAndGlyphs" >GdFeO<tspan font-size="6.12" dy="2.34">3</tspan><tspan dy="-2.34">(220)</tspan></text>
</svg></body></html>
